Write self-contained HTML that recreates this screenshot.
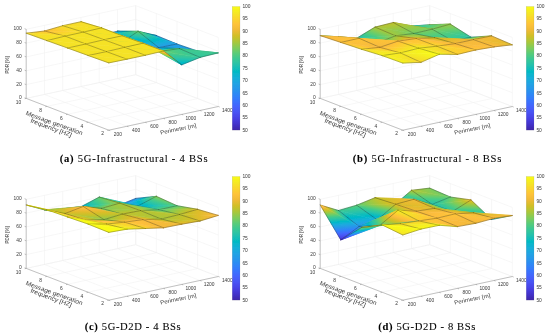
<!DOCTYPE html>
<html><head><meta charset="utf-8"><title>PDR surfaces</title>
<style>
html,body{margin:0;padding:0;background:#fff}
svg{display:block}
.g{fill:none;stroke:#efefef;stroke-width:.5}
.a{fill:none;stroke:#8a8a8a;stroke-width:.5}
.e{fill:none;stroke:#000;stroke-opacity:.5;stroke-width:.55;stroke-linejoin:round;stroke-linecap:round}
.s path{stroke-width:.6;stroke-linejoin:round}
.s path.e{stroke-width:.55}
text{font-family:"Liberation Sans",sans-serif;fill:#3a3a3a}
.t{font-size:4.45px}
.ct{font-size:4.45px}
.zl{font-size:4.5px}
.xl{font-size:6.1px}
.pl{font-size:5.6px}
.cap{font-family:"Liberation Serif",serif;font-size:10.6px;letter-spacing:.62px;fill:#000;stroke:#000;stroke-width:.08px}
</style></head><body>
<svg width="550" height="336" viewBox="0 0 550 336">
<defs><filter id="bl" x="-5%" y="-5%" width="110%" height="110%"><feGaussianBlur stdDeviation="0.4"/></filter><filter id="bc" x="-5%" y="-20%" width="110%" height="140%"><feGaussianBlur stdDeviation="0.25"/></filter><linearGradient id="cb" x1="0" y1="0" x2="0" y2="1"><stop offset="0%" stop-color="#f9fb15"/><stop offset="4.8%" stop-color="#f5e924"/><stop offset="9.5%" stop-color="#fad62d"/><stop offset="14.3%" stop-color="#fec338"/><stop offset="19%" stop-color="#f0ba36"/><stop offset="23.8%" stop-color="#d1bf27"/><stop offset="28.6%" stop-color="#abc739"/><stop offset="33.3%" stop-color="#81cc59"/><stop offset="38.1%" stop-color="#57cc7a"/><stop offset="42.9%" stop-color="#37c897"/><stop offset="47.6%" stop-color="#24c1ae"/><stop offset="52.4%" stop-color="#02bac3"/><stop offset="57.1%" stop-color="#12b1d6"/><stop offset="61.9%" stop-color="#20a5e3"/><stop offset="66.7%" stop-color="#2797eb"/><stop offset="71.4%" stop-color="#2e87f7"/><stop offset="76.2%" stop-color="#3875fe"/><stop offset="81%" stop-color="#4563fd"/><stop offset="85.7%" stop-color="#4852f4"/><stop offset="90.5%" stop-color="#4741e5"/><stop offset="95.2%" stop-color="#4332cb"/><stop offset="100%" stop-color="#3e26a8"/></linearGradient>
<linearGradient id="g1" gradientUnits="userSpaceOnUse" x1="117.4" y1="31.2" x2="117.5" y2="31.2"><stop offset="0%" stop-color="#4367fd"/><stop offset="16.7%" stop-color="#3c72ff"/><stop offset="33.3%" stop-color="#317dfc"/><stop offset="50%" stop-color="#2d87f7"/><stop offset="66.7%" stop-color="#2b91ef"/><stop offset="83.3%" stop-color="#269ae8"/><stop offset="100%" stop-color="#21a3e4"/></linearGradient>
<linearGradient id="g2" gradientUnits="userSpaceOnUse" x1="117.4" y1="31.3" x2="117.7" y2="29.1"><stop offset="0%" stop-color="#23a0e5"/><stop offset="11.1%" stop-color="#1da8e0"/><stop offset="22.2%" stop-color="#13b0d7"/><stop offset="33.3%" stop-color="#03b7cc"/><stop offset="44.4%" stop-color="#07bcc0"/><stop offset="55.6%" stop-color="#1ec0b2"/><stop offset="66.7%" stop-color="#2ec4a4"/><stop offset="77.8%" stop-color="#39c995"/><stop offset="88.9%" stop-color="#4ccb82"/><stop offset="100%" stop-color="#65cd6e"/></linearGradient>
<linearGradient id="g3" gradientUnits="userSpaceOnUse" x1="99.2" y1="35.6" x2="100.6" y2="41"><stop offset="0%" stop-color="#249fe6"/><stop offset="11.1%" stop-color="#1ea7e1"/><stop offset="22.2%" stop-color="#15afd8"/><stop offset="33.3%" stop-color="#04b6cd"/><stop offset="44.4%" stop-color="#06bcc0"/><stop offset="55.6%" stop-color="#1dc0b3"/><stop offset="66.7%" stop-color="#2dc4a5"/><stop offset="77.8%" stop-color="#39c895"/><stop offset="88.9%" stop-color="#4ccb83"/><stop offset="100%" stop-color="#65cd6e"/></linearGradient>
<linearGradient id="g4" gradientUnits="userSpaceOnUse" x1="99.2" y1="35.6" x2="105.7" y2="18.8"><stop offset="0%" stop-color="#249fe6"/><stop offset="11.1%" stop-color="#1ea7e1"/><stop offset="22.2%" stop-color="#15afd8"/><stop offset="33.3%" stop-color="#04b6cd"/><stop offset="44.4%" stop-color="#06bcc0"/><stop offset="55.6%" stop-color="#1dc0b3"/><stop offset="66.7%" stop-color="#2dc4a5"/><stop offset="77.8%" stop-color="#39c895"/><stop offset="88.9%" stop-color="#4ccb83"/><stop offset="100%" stop-color="#65cd6e"/></linearGradient>
<linearGradient id="g5" gradientUnits="userSpaceOnUse" x1="78.6" y1="27.7" x2="81" y2="21.7"><stop offset="0%" stop-color="#249fe6"/><stop offset="5.6%" stop-color="#1ea8e1"/><stop offset="11.1%" stop-color="#14b0d8"/><stop offset="16.7%" stop-color="#04b6cd"/><stop offset="22.2%" stop-color="#07bcc0"/><stop offset="27.8%" stop-color="#1ec0b2"/><stop offset="33.3%" stop-color="#2ec5a4"/><stop offset="38.9%" stop-color="#3ac993"/><stop offset="44.4%" stop-color="#4fcc81"/><stop offset="50%" stop-color="#68cd6b"/><stop offset="55.6%" stop-color="#85cb56"/><stop offset="61.1%" stop-color="#a1c840"/><stop offset="66.7%" stop-color="#bbc42f"/><stop offset="72.2%" stop-color="#d3bf27"/><stop offset="77.8%" stop-color="#e7bb2e"/><stop offset="83.3%" stop-color="#f9ba3d"/><stop offset="88.9%" stop-color="#fec438"/><stop offset="94.4%" stop-color="#fccf30"/><stop offset="100%" stop-color="#f7dc2a"/></linearGradient>
<linearGradient id="g6" gradientUnits="userSpaceOnUse" x1="78.2" y1="30.5" x2="81" y2="21.4"><stop offset="0%" stop-color="#249fe6"/><stop offset="5.6%" stop-color="#1da8e0"/><stop offset="11.1%" stop-color="#14b0d8"/><stop offset="16.7%" stop-color="#03b7cc"/><stop offset="22.2%" stop-color="#09bcbe"/><stop offset="27.8%" stop-color="#21c1b0"/><stop offset="33.3%" stop-color="#30c5a1"/><stop offset="38.9%" stop-color="#3dca90"/><stop offset="44.4%" stop-color="#54cc7c"/><stop offset="50%" stop-color="#6fcd66"/><stop offset="55.6%" stop-color="#8dcb4f"/><stop offset="61.1%" stop-color="#a9c73a"/><stop offset="66.7%" stop-color="#c4c22b"/><stop offset="72.2%" stop-color="#dbbd29"/><stop offset="77.8%" stop-color="#efba35"/><stop offset="83.3%" stop-color="#fdbd3d"/><stop offset="88.9%" stop-color="#fec934"/><stop offset="94.4%" stop-color="#fad62d"/><stop offset="100%" stop-color="#f5e227"/></linearGradient>
<linearGradient id="g7" gradientUnits="userSpaceOnUse" x1="62.7" y1="25.7" x2="65" y2="36"><stop offset="0%" stop-color="#f7dc2a"/><stop offset="100%" stop-color="#f5e227"/></linearGradient>
<linearGradient id="g8" gradientUnits="userSpaceOnUse" x1="62.7" y1="25.7" x2="65.2" y2="36.3"><stop offset="0%" stop-color="#f7dc2a"/><stop offset="100%" stop-color="#f5e227"/></linearGradient>
<linearGradient id="g9" gradientUnits="userSpaceOnUse" x1="44.5" y1="31" x2="50.9" y2="17.1"><stop offset="0%" stop-color="#fec13a"/><stop offset="33.3%" stop-color="#fdcb32"/><stop offset="66.7%" stop-color="#f9d72d"/><stop offset="100%" stop-color="#f5e227"/></linearGradient>
<linearGradient id="g10" gradientUnits="userSpaceOnUse" x1="44.5" y1="31" x2="46.4" y2="40.1"><stop offset="0%" stop-color="#fec13a"/><stop offset="33.3%" stop-color="#fdcb32"/><stop offset="66.7%" stop-color="#f9d72d"/><stop offset="100%" stop-color="#f5e227"/></linearGradient>
<linearGradient id="g11" gradientUnits="userSpaceOnUse" x1="26.4" y1="30" x2="26.2" y2="33.9"><stop offset="0%" stop-color="#fec13a"/><stop offset="33.3%" stop-color="#fdcb32"/><stop offset="66.7%" stop-color="#f9d72d"/><stop offset="100%" stop-color="#f5e227"/></linearGradient>
<linearGradient id="g12" gradientUnits="userSpaceOnUse" x1="26.2" y1="33.2" x2="29.1" y2="44.9"><stop offset="0%" stop-color="#f7dc2a"/><stop offset="100%" stop-color="#f5e227"/></linearGradient>
<linearGradient id="g13" gradientUnits="userSpaceOnUse" x1="139.4" y1="28.3" x2="138.1" y2="31.3"><stop offset="0%" stop-color="#259ce7"/><stop offset="11.1%" stop-color="#20a5e2"/><stop offset="22.2%" stop-color="#18aedb"/><stop offset="33.3%" stop-color="#07b5d0"/><stop offset="44.4%" stop-color="#02bbc3"/><stop offset="55.6%" stop-color="#19bfb5"/><stop offset="66.7%" stop-color="#2cc4a7"/><stop offset="77.8%" stop-color="#38c896"/><stop offset="88.9%" stop-color="#4bcb83"/><stop offset="100%" stop-color="#65cd6e"/></linearGradient>
<linearGradient id="g14" gradientUnits="userSpaceOnUse" x1="142.9" y1="51.9" x2="138.1" y2="31.3"><stop offset="0%" stop-color="#259ce7"/><stop offset="11.1%" stop-color="#20a5e2"/><stop offset="22.2%" stop-color="#18aedb"/><stop offset="33.3%" stop-color="#07b5d0"/><stop offset="44.4%" stop-color="#02bbc3"/><stop offset="55.6%" stop-color="#19bfb5"/><stop offset="66.7%" stop-color="#2cc4a7"/><stop offset="77.8%" stop-color="#38c896"/><stop offset="88.9%" stop-color="#4bcb83"/><stop offset="100%" stop-color="#65cd6e"/></linearGradient>
<linearGradient id="g15" gradientUnits="userSpaceOnUse" x1="119.8" y1="43.7" x2="121.3" y2="29.6"><stop offset="0%" stop-color="#249ee6"/><stop offset="11.1%" stop-color="#1ea7e1"/><stop offset="22.2%" stop-color="#15afd9"/><stop offset="33.3%" stop-color="#05b6ce"/><stop offset="44.4%" stop-color="#05bbc1"/><stop offset="55.6%" stop-color="#1cc0b3"/><stop offset="66.7%" stop-color="#2dc4a5"/><stop offset="77.8%" stop-color="#39c895"/><stop offset="88.9%" stop-color="#4ccb83"/><stop offset="100%" stop-color="#65cd6e"/></linearGradient>
<linearGradient id="g16" gradientUnits="userSpaceOnUse" x1="98.7" y1="35.4" x2="101.6" y2="27.9"><stop offset="0%" stop-color="#249fe6"/><stop offset="5.6%" stop-color="#1da8e0"/><stop offset="11.1%" stop-color="#14b0d8"/><stop offset="16.7%" stop-color="#03b7cc"/><stop offset="22.2%" stop-color="#09bcbe"/><stop offset="27.8%" stop-color="#21c1b0"/><stop offset="33.3%" stop-color="#30c5a1"/><stop offset="38.9%" stop-color="#3dca90"/><stop offset="44.4%" stop-color="#54cc7c"/><stop offset="50%" stop-color="#6fcd66"/><stop offset="55.6%" stop-color="#8dcb4f"/><stop offset="61.1%" stop-color="#a9c73a"/><stop offset="66.7%" stop-color="#c4c22b"/><stop offset="72.2%" stop-color="#dbbd29"/><stop offset="77.8%" stop-color="#efba35"/><stop offset="83.3%" stop-color="#fdbd3d"/><stop offset="88.9%" stop-color="#fec934"/><stop offset="94.4%" stop-color="#fad62d"/><stop offset="100%" stop-color="#f5e227"/></linearGradient>
<linearGradient id="g17" gradientUnits="userSpaceOnUse" x1="98.7" y1="35.6" x2="101.6" y2="27.9"><stop offset="0%" stop-color="#249fe6"/><stop offset="5.6%" stop-color="#1da8e0"/><stop offset="11.1%" stop-color="#14b0d8"/><stop offset="16.7%" stop-color="#03b7cc"/><stop offset="22.2%" stop-color="#09bcbe"/><stop offset="27.8%" stop-color="#21c1b0"/><stop offset="33.3%" stop-color="#30c5a1"/><stop offset="38.9%" stop-color="#3dca90"/><stop offset="44.4%" stop-color="#54cc7c"/><stop offset="50%" stop-color="#6fcd66"/><stop offset="55.6%" stop-color="#8dcb4f"/><stop offset="61.1%" stop-color="#a9c73a"/><stop offset="66.7%" stop-color="#c4c22b"/><stop offset="72.2%" stop-color="#dbbd29"/><stop offset="77.8%" stop-color="#efba35"/><stop offset="83.3%" stop-color="#fdbd3d"/><stop offset="88.9%" stop-color="#fec934"/><stop offset="94.4%" stop-color="#fad62d"/><stop offset="100%" stop-color="#f5e227"/></linearGradient>
<linearGradient id="g18" gradientUnits="userSpaceOnUse" x1="158.6" y1="44.7" x2="159" y2="52.7"><stop offset="0%" stop-color="#259ce7"/><stop offset="100%" stop-color="#22a2e4"/></linearGradient>
<linearGradient id="g19" gradientUnits="userSpaceOnUse" x1="158.8" y1="47.6" x2="158.8" y2="46.7"><stop offset="0%" stop-color="#249ee6"/><stop offset="12.5%" stop-color="#1fa6e1"/><stop offset="25%" stop-color="#17aeda"/><stop offset="37.5%" stop-color="#07b5d0"/><stop offset="50%" stop-color="#02bac4"/><stop offset="62.5%" stop-color="#14beb8"/><stop offset="75%" stop-color="#28c2ab"/><stop offset="87.5%" stop-color="#33c69d"/><stop offset="100%" stop-color="#40ca8d"/></linearGradient>
<linearGradient id="g20" gradientUnits="userSpaceOnUse" x1="140.5" y1="51.5" x2="141.6" y2="56.6"><stop offset="0%" stop-color="#249ee6"/><stop offset="12.5%" stop-color="#1fa6e1"/><stop offset="25%" stop-color="#17aeda"/><stop offset="37.5%" stop-color="#07b5d0"/><stop offset="50%" stop-color="#02bac4"/><stop offset="62.5%" stop-color="#14beb8"/><stop offset="75%" stop-color="#28c2ab"/><stop offset="87.5%" stop-color="#33c69d"/><stop offset="100%" stop-color="#40ca8d"/></linearGradient>
<linearGradient id="g21" gradientUnits="userSpaceOnUse" x1="140.5" y1="51.5" x2="140.8" y2="53.6"><stop offset="0%" stop-color="#249fe6"/><stop offset="11.1%" stop-color="#1ea7e1"/><stop offset="22.2%" stop-color="#15afd8"/><stop offset="33.3%" stop-color="#04b6cd"/><stop offset="44.4%" stop-color="#06bcc0"/><stop offset="55.6%" stop-color="#1dc0b3"/><stop offset="66.7%" stop-color="#2dc4a5"/><stop offset="77.8%" stop-color="#39c895"/><stop offset="88.9%" stop-color="#4ccb83"/><stop offset="100%" stop-color="#65cd6e"/></linearGradient>
<linearGradient id="g22" gradientUnits="userSpaceOnUse" x1="119.6" y1="46.4" x2="122.2" y2="35.8"><stop offset="0%" stop-color="#249fe6"/><stop offset="5.6%" stop-color="#1da8e0"/><stop offset="11.1%" stop-color="#14b0d8"/><stop offset="16.7%" stop-color="#03b7cc"/><stop offset="22.2%" stop-color="#09bcbe"/><stop offset="27.8%" stop-color="#21c1b0"/><stop offset="33.3%" stop-color="#30c5a1"/><stop offset="38.9%" stop-color="#3dca90"/><stop offset="44.4%" stop-color="#54cc7c"/><stop offset="50%" stop-color="#6fcd66"/><stop offset="55.6%" stop-color="#8dcb4f"/><stop offset="61.1%" stop-color="#a9c73a"/><stop offset="66.7%" stop-color="#c4c22b"/><stop offset="72.2%" stop-color="#dbbd29"/><stop offset="77.8%" stop-color="#efba35"/><stop offset="83.3%" stop-color="#fdbd3d"/><stop offset="88.9%" stop-color="#fec934"/><stop offset="94.4%" stop-color="#fad62d"/><stop offset="100%" stop-color="#f5e227"/></linearGradient>
<linearGradient id="g23" gradientUnits="userSpaceOnUse" x1="121.8" y1="37" x2="122.2" y2="35.8"><stop offset="0%" stop-color="#65cd6e"/><stop offset="10%" stop-color="#80cc59"/><stop offset="20%" stop-color="#9cc944"/><stop offset="30%" stop-color="#b5c533"/><stop offset="40%" stop-color="#cdc028"/><stop offset="50%" stop-color="#e2bc2b"/><stop offset="60%" stop-color="#f3ba39"/><stop offset="70%" stop-color="#febf3b"/><stop offset="80%" stop-color="#fdca33"/><stop offset="90%" stop-color="#f9d62d"/><stop offset="100%" stop-color="#f5e227"/></linearGradient>
<linearGradient id="g24" gradientUnits="userSpaceOnUse" x1="179.3" y1="49.1" x2="179.4" y2="48.6"><stop offset="0%" stop-color="#22a2e4"/><stop offset="14.3%" stop-color="#1babde"/><stop offset="28.6%" stop-color="#0eb2d4"/><stop offset="42.9%" stop-color="#01b9c8"/><stop offset="57.1%" stop-color="#0ebebb"/><stop offset="71.4%" stop-color="#26c2ad"/><stop offset="85.7%" stop-color="#32c69e"/><stop offset="100%" stop-color="#40ca8d"/></linearGradient>
<linearGradient id="g25" gradientUnits="userSpaceOnUse" x1="179.1" y1="56.5" x2="179.4" y2="48.6"><stop offset="0%" stop-color="#33c79d"/><stop offset="100%" stop-color="#40ca8d"/></linearGradient>
<linearGradient id="g26" gradientUnits="userSpaceOnUse" x1="178.7" y1="34.7" x2="161.2" y2="51.2"><stop offset="0%" stop-color="#33c79d"/><stop offset="33.3%" stop-color="#3eca8f"/><stop offset="66.7%" stop-color="#51cc7f"/><stop offset="100%" stop-color="#65cd6e"/></linearGradient>
<linearGradient id="g27" gradientUnits="userSpaceOnUse" x1="160.8" y1="64.2" x2="161.2" y2="51.2"><stop offset="0%" stop-color="#09b4d1"/><stop offset="14.3%" stop-color="#01b9c6"/><stop offset="28.6%" stop-color="#10beba"/><stop offset="42.9%" stop-color="#25c2ae"/><stop offset="57.1%" stop-color="#31c6a0"/><stop offset="71.4%" stop-color="#3cc992"/><stop offset="85.7%" stop-color="#4fcc81"/><stop offset="100%" stop-color="#65cd6e"/></linearGradient>
<linearGradient id="g28" gradientUnits="userSpaceOnUse" x1="150.8" y1="35" x2="142.9" y2="43.2"><stop offset="0%" stop-color="#09b4d1"/><stop offset="6.2%" stop-color="#02bac4"/><stop offset="12.5%" stop-color="#15bfb7"/><stop offset="18.8%" stop-color="#29c3a9"/><stop offset="25%" stop-color="#35c79a"/><stop offset="31.2%" stop-color="#46cb88"/><stop offset="37.5%" stop-color="#5ecc74"/><stop offset="43.8%" stop-color="#79cc5e"/><stop offset="50%" stop-color="#95ca49"/><stop offset="56.2%" stop-color="#b0c636"/><stop offset="62.5%" stop-color="#c9c129"/><stop offset="68.8%" stop-color="#dfbc2a"/><stop offset="75%" stop-color="#f1ba37"/><stop offset="81.2%" stop-color="#febe3c"/><stop offset="87.5%" stop-color="#feca33"/><stop offset="93.8%" stop-color="#f9d62d"/><stop offset="100%" stop-color="#f5e227"/></linearGradient>
<linearGradient id="g29" gradientUnits="userSpaceOnUse" x1="140.6" y1="49.3" x2="142.9" y2="43.2"><stop offset="0%" stop-color="#09b4d1"/><stop offset="6.2%" stop-color="#02bac4"/><stop offset="12.5%" stop-color="#15bfb7"/><stop offset="18.8%" stop-color="#29c3a9"/><stop offset="25%" stop-color="#35c79a"/><stop offset="31.2%" stop-color="#46cb88"/><stop offset="37.5%" stop-color="#5ecc74"/><stop offset="43.8%" stop-color="#79cc5e"/><stop offset="50%" stop-color="#95ca49"/><stop offset="56.2%" stop-color="#b0c636"/><stop offset="62.5%" stop-color="#c9c129"/><stop offset="68.8%" stop-color="#dfbc2a"/><stop offset="75%" stop-color="#f1ba37"/><stop offset="81.2%" stop-color="#febe3c"/><stop offset="87.5%" stop-color="#feca33"/><stop offset="93.8%" stop-color="#f9d62d"/><stop offset="100%" stop-color="#f5e227"/></linearGradient>
<linearGradient id="g30" gradientUnits="userSpaceOnUse" x1="117.4" y1="25.9" x2="117.5" y2="26.7"><stop offset="0%" stop-color="#06b5cf"/><stop offset="12.5%" stop-color="#03bbc2"/><stop offset="25%" stop-color="#1ac0b5"/><stop offset="37.5%" stop-color="#2cc4a6"/><stop offset="50%" stop-color="#37c897"/><stop offset="62.5%" stop-color="#4acb84"/><stop offset="75%" stop-color="#63cd70"/><stop offset="87.5%" stop-color="#7fcc5a"/><stop offset="100%" stop-color="#9bc944"/></linearGradient>
<linearGradient id="g31" gradientUnits="userSpaceOnUse" x1="117.5" y1="26.1" x2="123.5" y2="39.3"><stop offset="0%" stop-color="#21c1b0"/><stop offset="16.7%" stop-color="#2fc5a2"/><stop offset="33.3%" stop-color="#3bc993"/><stop offset="50%" stop-color="#4ecc81"/><stop offset="66.7%" stop-color="#66cd6d"/><stop offset="83.3%" stop-color="#81cc59"/><stop offset="100%" stop-color="#9bc944"/></linearGradient>
<linearGradient id="g32" gradientUnits="userSpaceOnUse" x1="99.1" y1="23" x2="99.2" y2="22.5"><stop offset="0%" stop-color="#21c1b0"/><stop offset="14.3%" stop-color="#30c5a1"/><stop offset="28.6%" stop-color="#3dc991"/><stop offset="42.9%" stop-color="#53cc7d"/><stop offset="57.1%" stop-color="#6dcd67"/><stop offset="71.4%" stop-color="#8acb51"/><stop offset="85.7%" stop-color="#a6c73c"/><stop offset="100%" stop-color="#c1c32d"/></linearGradient>
<linearGradient id="g33" gradientUnits="userSpaceOnUse" x1="101.3" y1="36.3" x2="99.2" y2="22.5"><stop offset="0%" stop-color="#71cd64"/><stop offset="33.3%" stop-color="#8dcb4f"/><stop offset="66.7%" stop-color="#a8c73b"/><stop offset="100%" stop-color="#c1c32d"/></linearGradient>
<linearGradient id="g34" gradientUnits="userSpaceOnUse" x1="81.9" y1="37.2" x2="80.7" y2="24.3"><stop offset="0%" stop-color="#71cd64"/><stop offset="33.3%" stop-color="#8dcb4f"/><stop offset="66.7%" stop-color="#a8c73b"/><stop offset="100%" stop-color="#c1c32d"/></linearGradient>
<linearGradient id="g35" gradientUnits="userSpaceOnUse" x1="91" y1="13" x2="81" y2="27.1"><stop offset="0%" stop-color="#71cd64"/><stop offset="33.3%" stop-color="#87cb54"/><stop offset="66.7%" stop-color="#9cc944"/><stop offset="100%" stop-color="#b0c636"/></linearGradient>
<linearGradient id="g36" gradientUnits="userSpaceOnUse" x1="62.7" y1="38.2" x2="67.9" y2="22.7"><stop offset="0%" stop-color="#1dc0b3"/><stop offset="14.3%" stop-color="#2dc4a5"/><stop offset="28.6%" stop-color="#38c896"/><stop offset="42.9%" stop-color="#49cb85"/><stop offset="57.1%" stop-color="#61cd71"/><stop offset="71.4%" stop-color="#7bcc5d"/><stop offset="85.7%" stop-color="#96ca48"/><stop offset="100%" stop-color="#b0c636"/></linearGradient>
<linearGradient id="g37" gradientUnits="userSpaceOnUse" x1="62.7" y1="38.2" x2="101.5" y2="34.4"><stop offset="0%" stop-color="#1dc0b3"/><stop offset="16.7%" stop-color="#2ec4a5"/><stop offset="33.3%" stop-color="#39c994"/><stop offset="50%" stop-color="#4dcc82"/><stop offset="66.7%" stop-color="#66cd6d"/><stop offset="83.3%" stop-color="#83cc57"/><stop offset="100%" stop-color="#9fc942"/></linearGradient>
<linearGradient id="g38" gradientUnits="userSpaceOnUse" x1="44.7" y1="35.1" x2="44.5" y2="36.8"><stop offset="0%" stop-color="#1dc0b3"/><stop offset="20%" stop-color="#2ec4a4"/><stop offset="40%" stop-color="#3ac994"/><stop offset="60%" stop-color="#4ecc81"/><stop offset="80%" stop-color="#67cd6c"/><stop offset="100%" stop-color="#84cc56"/></linearGradient>
<linearGradient id="g39" gradientUnits="userSpaceOnUse" x1="44.4" y1="37.2" x2="44.7" y2="35.3"><stop offset="0%" stop-color="#50cc80"/><stop offset="12.5%" stop-color="#69cd6b"/><stop offset="25%" stop-color="#85cb55"/><stop offset="37.5%" stop-color="#a1c840"/><stop offset="50%" stop-color="#bbc42f"/><stop offset="62.5%" stop-color="#d2bf27"/><stop offset="75%" stop-color="#e7bb2e"/><stop offset="87.5%" stop-color="#f8ba3d"/><stop offset="100%" stop-color="#fec338"/></linearGradient>
<linearGradient id="g40" gradientUnits="userSpaceOnUse" x1="26.2" y1="35.5" x2="26.2" y2="35.6"><stop offset="0%" stop-color="#84cc56"/><stop offset="16.7%" stop-color="#a0c841"/><stop offset="33.3%" stop-color="#bac430"/><stop offset="50%" stop-color="#d2bf27"/><stop offset="66.7%" stop-color="#e7bb2d"/><stop offset="83.3%" stop-color="#f8ba3d"/><stop offset="100%" stop-color="#fec338"/></linearGradient>
<linearGradient id="g41" gradientUnits="userSpaceOnUse" x1="26.2" y1="35.6" x2="30.3" y2="49"><stop offset="0%" stop-color="#f4ba3a"/><stop offset="50%" stop-color="#fcbd3d"/><stop offset="100%" stop-color="#fec338"/></linearGradient>
<linearGradient id="g42" gradientUnits="userSpaceOnUse" x1="139.1" y1="40.5" x2="137.8" y2="25.7"><stop offset="0%" stop-color="#2ec4a4"/><stop offset="20%" stop-color="#39c994"/><stop offset="40%" stop-color="#4ccb82"/><stop offset="60%" stop-color="#65cd6e"/><stop offset="80%" stop-color="#80cc59"/><stop offset="100%" stop-color="#9bc944"/></linearGradient>
<linearGradient id="g43" gradientUnits="userSpaceOnUse" x1="142.4" y1="46.1" x2="138.1" y2="29.2"><stop offset="0%" stop-color="#2ec4a4"/><stop offset="25%" stop-color="#39c895"/><stop offset="50%" stop-color="#4acb84"/><stop offset="75%" stop-color="#61cd71"/><stop offset="100%" stop-color="#7acc5d"/></linearGradient>
<linearGradient id="g44" gradientUnits="userSpaceOnUse" x1="122" y1="46.8" x2="119.6" y2="32.2"><stop offset="0%" stop-color="#30c5a1"/><stop offset="25%" stop-color="#3bc993"/><stop offset="50%" stop-color="#4ccb82"/><stop offset="75%" stop-color="#62cd70"/><stop offset="100%" stop-color="#7acc5d"/></linearGradient>
<linearGradient id="g45" gradientUnits="userSpaceOnUse" x1="119.9" y1="33.4" x2="119.8" y2="33.7"><stop offset="0%" stop-color="#30c5a1"/><stop offset="14.3%" stop-color="#3cc991"/><stop offset="28.6%" stop-color="#51cc7f"/><stop offset="42.9%" stop-color="#69cd6b"/><stop offset="57.1%" stop-color="#84cb56"/><stop offset="71.4%" stop-color="#9fc941"/><stop offset="85.7%" stop-color="#b9c431"/><stop offset="100%" stop-color="#d0c027"/></linearGradient>
<linearGradient id="g46" gradientUnits="userSpaceOnUse" x1="101.6" y1="33.8" x2="101.6" y2="38.2"><stop offset="0%" stop-color="#71cd64"/><stop offset="25%" stop-color="#8bcb51"/><stop offset="50%" stop-color="#a3c83f"/><stop offset="75%" stop-color="#bbc430"/><stop offset="100%" stop-color="#d0c027"/></linearGradient>
<linearGradient id="g47" gradientUnits="userSpaceOnUse" x1="101.6" y1="35.8" x2="101.5" y2="38"><stop offset="0%" stop-color="#9fc942"/><stop offset="20%" stop-color="#b9c431"/><stop offset="40%" stop-color="#d0c027"/><stop offset="60%" stop-color="#e4bb2c"/><stop offset="80%" stop-color="#f5ba3a"/><stop offset="100%" stop-color="#fec13a"/></linearGradient>
<linearGradient id="g48" gradientUnits="userSpaceOnUse" x1="83.3" y1="42.8" x2="108.2" y2="59.5"><stop offset="0%" stop-color="#50cc80"/><stop offset="12.5%" stop-color="#68cd6b"/><stop offset="25%" stop-color="#84cc56"/><stop offset="37.5%" stop-color="#9fc942"/><stop offset="50%" stop-color="#b9c431"/><stop offset="62.5%" stop-color="#d0c027"/><stop offset="75%" stop-color="#e4bb2c"/><stop offset="87.5%" stop-color="#f5ba3a"/><stop offset="100%" stop-color="#fec13a"/></linearGradient>
<linearGradient id="g49" gradientUnits="userSpaceOnUse" x1="83.3" y1="42.8" x2="83.5" y2="44"><stop offset="0%" stop-color="#50cc80"/><stop offset="12.5%" stop-color="#68cd6b"/><stop offset="25%" stop-color="#84cc56"/><stop offset="37.5%" stop-color="#9fc942"/><stop offset="50%" stop-color="#b9c431"/><stop offset="62.5%" stop-color="#d0c027"/><stop offset="75%" stop-color="#e4bb2c"/><stop offset="87.5%" stop-color="#f5ba3a"/><stop offset="100%" stop-color="#fec13a"/></linearGradient>
<linearGradient id="g50" gradientUnits="userSpaceOnUse" x1="64.9" y1="41.5" x2="65.1" y2="38.3"><stop offset="0%" stop-color="#50cc80"/><stop offset="12.5%" stop-color="#69cd6b"/><stop offset="25%" stop-color="#85cb55"/><stop offset="37.5%" stop-color="#a1c840"/><stop offset="50%" stop-color="#bbc42f"/><stop offset="62.5%" stop-color="#d2bf27"/><stop offset="75%" stop-color="#e7bb2e"/><stop offset="87.5%" stop-color="#f8ba3d"/><stop offset="100%" stop-color="#fec338"/></linearGradient>
<linearGradient id="g51" gradientUnits="userSpaceOnUse" x1="64.8" y1="46.7" x2="65.1" y2="38.3"><stop offset="0%" stop-color="#f7ba3c"/><stop offset="100%" stop-color="#fec338"/></linearGradient>
<linearGradient id="g52" gradientUnits="userSpaceOnUse" x1="48.3" y1="52.6" x2="46.6" y2="40.9"><stop offset="0%" stop-color="#f7ba3c"/><stop offset="100%" stop-color="#fec338"/></linearGradient>
<linearGradient id="g53" gradientUnits="userSpaceOnUse" x1="47.1" y1="41.1" x2="46.3" y2="45.9"><stop offset="0%" stop-color="#f7ba3c"/><stop offset="25%" stop-color="#fec13a"/><stop offset="50%" stop-color="#fdcb33"/><stop offset="75%" stop-color="#fad52d"/><stop offset="100%" stop-color="#f6e028"/></linearGradient>
<linearGradient id="g54" gradientUnits="userSpaceOnUse" x1="158.7" y1="40.9" x2="159.3" y2="43.7"><stop offset="0%" stop-color="#2ec4a4"/><stop offset="11.1%" stop-color="#39c895"/><stop offset="22.2%" stop-color="#4ccb83"/><stop offset="33.3%" stop-color="#63cd6f"/><stop offset="44.4%" stop-color="#7ecc5a"/><stop offset="55.6%" stop-color="#99c946"/><stop offset="66.7%" stop-color="#b3c534"/><stop offset="77.8%" stop-color="#cac129"/><stop offset="88.9%" stop-color="#dfbc2a"/><stop offset="100%" stop-color="#f1ba37"/></linearGradient>
<linearGradient id="g55" gradientUnits="userSpaceOnUse" x1="158.8" y1="40.9" x2="159.3" y2="43.6"><stop offset="0%" stop-color="#30c5a1"/><stop offset="11.1%" stop-color="#3cc991"/><stop offset="22.2%" stop-color="#51cc7f"/><stop offset="33.3%" stop-color="#69cd6a"/><stop offset="44.4%" stop-color="#85cb56"/><stop offset="55.6%" stop-color="#a0c941"/><stop offset="66.7%" stop-color="#b9c430"/><stop offset="77.8%" stop-color="#d0bf27"/><stop offset="88.9%" stop-color="#e4bb2c"/><stop offset="100%" stop-color="#f5ba3a"/></linearGradient>
<linearGradient id="g56" gradientUnits="userSpaceOnUse" x1="140.4" y1="39.7" x2="140.5" y2="37.1"><stop offset="0%" stop-color="#30c5a1"/><stop offset="11.1%" stop-color="#3cc991"/><stop offset="22.2%" stop-color="#51cc7f"/><stop offset="33.3%" stop-color="#69cd6a"/><stop offset="44.4%" stop-color="#85cb56"/><stop offset="55.6%" stop-color="#a0c941"/><stop offset="66.7%" stop-color="#b9c430"/><stop offset="77.8%" stop-color="#d0bf27"/><stop offset="88.9%" stop-color="#e4bb2c"/><stop offset="100%" stop-color="#f5ba3a"/></linearGradient>
<linearGradient id="g57" gradientUnits="userSpaceOnUse" x1="140.5" y1="37.7" x2="143.1" y2="48.4"><stop offset="0%" stop-color="#d0c027"/><stop offset="50%" stop-color="#e4bb2c"/><stop offset="100%" stop-color="#f5ba3a"/></linearGradient>
<linearGradient id="g58" gradientUnits="userSpaceOnUse" x1="122.9" y1="34.8" x2="122.2" y2="38.5"><stop offset="0%" stop-color="#d0c027"/><stop offset="33.3%" stop-color="#e4bb2c"/><stop offset="66.7%" stop-color="#f5ba3a"/><stop offset="100%" stop-color="#fec13a"/></linearGradient>
<linearGradient id="g59" gradientUnits="userSpaceOnUse" x1="122.6" y1="36.5" x2="121.6" y2="42.3"><stop offset="0%" stop-color="#f4ba3a"/><stop offset="33.3%" stop-color="#fec03a"/><stop offset="66.7%" stop-color="#fdcc32"/><stop offset="100%" stop-color="#f9d82c"/></linearGradient>
<linearGradient id="g60" gradientUnits="userSpaceOnUse" x1="104" y1="41.1" x2="105.5" y2="51.5"><stop offset="0%" stop-color="#fec13a"/><stop offset="50%" stop-color="#fdcc32"/><stop offset="100%" stop-color="#f9d82c"/></linearGradient>
<linearGradient id="g61" gradientUnits="userSpaceOnUse" x1="104" y1="41.1" x2="103.7" y2="47"><stop offset="0%" stop-color="#fec13a"/><stop offset="25%" stop-color="#fdcc32"/><stop offset="50%" stop-color="#f9d82c"/><stop offset="75%" stop-color="#f5e427"/><stop offset="100%" stop-color="#f6f020"/></linearGradient>
<linearGradient id="g62" gradientUnits="userSpaceOnUse" x1="85.8" y1="47.3" x2="95.5" y2="64.6"><stop offset="0%" stop-color="#f7ba3c"/><stop offset="20%" stop-color="#fec239"/><stop offset="40%" stop-color="#fdcd32"/><stop offset="60%" stop-color="#f8d92c"/><stop offset="80%" stop-color="#f5e426"/><stop offset="100%" stop-color="#f6f020"/></linearGradient>
<linearGradient id="g63" gradientUnits="userSpaceOnUse" x1="85.8" y1="47.3" x2="90.9" y2="60.9"><stop offset="0%" stop-color="#f7ba3c"/><stop offset="20%" stop-color="#fec239"/><stop offset="40%" stop-color="#fdcd32"/><stop offset="60%" stop-color="#f8d92c"/><stop offset="80%" stop-color="#f5e426"/><stop offset="100%" stop-color="#f6f020"/></linearGradient>
<linearGradient id="g64" gradientUnits="userSpaceOnUse" x1="67.8" y1="46" x2="67.5" y2="50"><stop offset="0%" stop-color="#f7ba3c"/><stop offset="25%" stop-color="#fec339"/><stop offset="50%" stop-color="#fccf31"/><stop offset="75%" stop-color="#f7db2a"/><stop offset="100%" stop-color="#f5e825"/></linearGradient>
<linearGradient id="g65" gradientUnits="userSpaceOnUse" x1="67.5" y1="49.3" x2="67.3" y2="54.8"><stop offset="0%" stop-color="#f6e028"/><stop offset="50%" stop-color="#f5ea24"/><stop offset="100%" stop-color="#f7f31c"/></linearGradient>
<linearGradient id="g66" gradientUnits="userSpaceOnUse" x1="190.3" y1="59.9" x2="179.4" y2="39.6"><stop offset="0%" stop-color="#e1bc2b"/><stop offset="50%" stop-color="#ecba32"/><stop offset="100%" stop-color="#f5ba3a"/></linearGradient>
<linearGradient id="g67" gradientUnits="userSpaceOnUse" x1="180.3" y1="35.8" x2="178.9" y2="41.9"><stop offset="0%" stop-color="#e1bc2b"/><stop offset="50%" stop-color="#f1ba37"/><stop offset="100%" stop-color="#fdbd3d"/></linearGradient>
<linearGradient id="g68" gradientUnits="userSpaceOnUse" x1="161.2" y1="43.6" x2="165.1" y2="57.1"><stop offset="0%" stop-color="#f4ba3a"/><stop offset="100%" stop-color="#fdbd3d"/></linearGradient>
<linearGradient id="g69" gradientUnits="userSpaceOnUse" x1="161.2" y1="43.6" x2="161.1" y2="49.7"><stop offset="0%" stop-color="#f4ba3a"/><stop offset="50%" stop-color="#febe3c"/><stop offset="100%" stop-color="#fec736"/></linearGradient>
<linearGradient id="g70" gradientUnits="userSpaceOnUse" x1="143.8" y1="40.8" x2="142.9" y2="46.2"><stop offset="0%" stop-color="#f4ba3a"/><stop offset="33.3%" stop-color="#fec03a"/><stop offset="66.7%" stop-color="#fdcc32"/><stop offset="100%" stop-color="#f9d82c"/></linearGradient>
<linearGradient id="g71" gradientUnits="userSpaceOnUse" x1="174.3" y1="32.7" x2="142.9" y2="46.2"><stop offset="0%" stop-color="#fec736"/><stop offset="50%" stop-color="#fccf30"/><stop offset="100%" stop-color="#f9d82c"/></linearGradient>
<linearGradient id="g72" gradientUnits="userSpaceOnUse" x1="132.3" y1="35.5" x2="124.7" y2="48.2"><stop offset="0%" stop-color="#fcd030"/><stop offset="33.3%" stop-color="#f7db2b"/><stop offset="66.7%" stop-color="#f5e526"/><stop offset="100%" stop-color="#f6f020"/></linearGradient>
<linearGradient id="g73" gradientUnits="userSpaceOnUse" x1="125.4" y1="45.2" x2="124.4" y2="49.3"><stop offset="0%" stop-color="#fcd030"/><stop offset="25%" stop-color="#f7db2b"/><stop offset="50%" stop-color="#f5e626"/><stop offset="75%" stop-color="#f6f11f"/><stop offset="100%" stop-color="#f9fb15"/></linearGradient>
<linearGradient id="g74" gradientUnits="userSpaceOnUse" x1="106.4" y1="52.9" x2="138" y2="68.9"><stop offset="0%" stop-color="#f5e825"/><stop offset="50%" stop-color="#f6f21e"/><stop offset="100%" stop-color="#f9fb15"/></linearGradient>
<linearGradient id="g75" gradientUnits="userSpaceOnUse" x1="105.4" y1="57.9" x2="107.7" y2="46.7"><stop offset="0%" stop-color="#f9d82c"/><stop offset="33.3%" stop-color="#f5e427"/><stop offset="66.7%" stop-color="#f6f020"/><stop offset="100%" stop-color="#f9fb15"/></linearGradient>
<linearGradient id="g76" gradientUnits="userSpaceOnUse" x1="125.9" y1="66.4" x2="88.1" y2="55.6"><stop offset="0%" stop-color="#f9d82c"/><stop offset="33.3%" stop-color="#f5e128"/><stop offset="66.7%" stop-color="#f5eb23"/><stop offset="100%" stop-color="#f7f31c"/></linearGradient>
<linearGradient id="g77" gradientUnits="userSpaceOnUse" x1="89.9" y1="50.2" x2="87.9" y2="56.3"><stop offset="0%" stop-color="#f9d82c"/><stop offset="33.3%" stop-color="#f5e327"/><stop offset="66.7%" stop-color="#f5ed22"/><stop offset="100%" stop-color="#f8f719"/></linearGradient>
<linearGradient id="g78" gradientUnits="userSpaceOnUse" x1="117.5" y1="35.8" x2="121.6" y2="44"><stop offset="0%" stop-color="#3876fe"/><stop offset="7.1%" stop-color="#2f82fa"/><stop offset="14.3%" stop-color="#2d8cf3"/><stop offset="21.4%" stop-color="#2796eb"/><stop offset="28.6%" stop-color="#23a0e5"/><stop offset="35.7%" stop-color="#1da9e0"/><stop offset="42.9%" stop-color="#13b1d7"/><stop offset="50%" stop-color="#02b7cb"/><stop offset="57.1%" stop-color="#09bcbe"/><stop offset="64.3%" stop-color="#20c1b1"/><stop offset="71.4%" stop-color="#2fc5a2"/><stop offset="78.6%" stop-color="#3cc992"/><stop offset="85.7%" stop-color="#51cc7f"/><stop offset="92.9%" stop-color="#6bcd69"/><stop offset="100%" stop-color="#87cb54"/></linearGradient>
<linearGradient id="g79" gradientUnits="userSpaceOnUse" x1="117.5" y1="35.8" x2="144.7" y2="12.6"><stop offset="0%" stop-color="#3876fe"/><stop offset="7.1%" stop-color="#2f82fa"/><stop offset="14.3%" stop-color="#2d8cf3"/><stop offset="21.4%" stop-color="#2796eb"/><stop offset="28.6%" stop-color="#23a0e5"/><stop offset="35.7%" stop-color="#1da9e0"/><stop offset="42.9%" stop-color="#13b1d7"/><stop offset="50%" stop-color="#02b7cb"/><stop offset="57.1%" stop-color="#09bcbe"/><stop offset="64.3%" stop-color="#20c1b1"/><stop offset="71.4%" stop-color="#2fc5a2"/><stop offset="78.6%" stop-color="#3cc992"/><stop offset="85.7%" stop-color="#51cc7f"/><stop offset="92.9%" stop-color="#6bcd69"/><stop offset="100%" stop-color="#87cb54"/></linearGradient>
<linearGradient id="g80" gradientUnits="userSpaceOnUse" x1="98.3" y1="33.1" x2="99.2" y2="27.1"><stop offset="0%" stop-color="#3876fe"/><stop offset="7.7%" stop-color="#2f82fa"/><stop offset="15.4%" stop-color="#2d8cf3"/><stop offset="23.1%" stop-color="#2796eb"/><stop offset="30.8%" stop-color="#23a0e5"/><stop offset="38.5%" stop-color="#1da9e0"/><stop offset="46.2%" stop-color="#13b0d7"/><stop offset="53.8%" stop-color="#02b7cb"/><stop offset="61.5%" stop-color="#08bcbe"/><stop offset="69.2%" stop-color="#20c1b1"/><stop offset="76.9%" stop-color="#2fc5a2"/><stop offset="84.6%" stop-color="#3cc992"/><stop offset="92.3%" stop-color="#51cc7f"/><stop offset="100%" stop-color="#6acd6a"/></linearGradient>
<linearGradient id="g81" gradientUnits="userSpaceOnUse" x1="99.6" y1="25.7" x2="99.1" y2="27.6"><stop offset="0%" stop-color="#11b1d6"/><stop offset="11.1%" stop-color="#01b8c9"/><stop offset="22.2%" stop-color="#0cbdbc"/><stop offset="33.3%" stop-color="#24c1ae"/><stop offset="44.4%" stop-color="#31c69f"/><stop offset="55.6%" stop-color="#3fca8e"/><stop offset="66.7%" stop-color="#57cc7a"/><stop offset="77.8%" stop-color="#71cd64"/><stop offset="88.9%" stop-color="#8ecb4e"/><stop offset="100%" stop-color="#aac73a"/></linearGradient>
<linearGradient id="g82" gradientUnits="userSpaceOnUse" x1="81" y1="36.7" x2="94.5" y2="16.2"><stop offset="0%" stop-color="#07b5d0"/><stop offset="11.1%" stop-color="#02bac4"/><stop offset="22.2%" stop-color="#16bfb7"/><stop offset="33.3%" stop-color="#29c3aa"/><stop offset="44.4%" stop-color="#34c79b"/><stop offset="55.6%" stop-color="#44ca8a"/><stop offset="66.7%" stop-color="#5bcc77"/><stop offset="77.8%" stop-color="#74cc62"/><stop offset="88.9%" stop-color="#90ca4d"/><stop offset="100%" stop-color="#aac73a"/></linearGradient>
<linearGradient id="g83" gradientUnits="userSpaceOnUse" x1="81" y1="36.7" x2="85.5" y2="47.4"><stop offset="0%" stop-color="#07b5d0"/><stop offset="11.1%" stop-color="#02bac4"/><stop offset="22.2%" stop-color="#16bfb7"/><stop offset="33.3%" stop-color="#29c3aa"/><stop offset="44.4%" stop-color="#34c79b"/><stop offset="55.6%" stop-color="#44ca8a"/><stop offset="66.7%" stop-color="#5bcc77"/><stop offset="77.8%" stop-color="#74cc62"/><stop offset="88.9%" stop-color="#90ca4d"/><stop offset="100%" stop-color="#aac73a"/></linearGradient>
<linearGradient id="g84" gradientUnits="userSpaceOnUse" x1="62.7" y1="37.2" x2="62.7" y2="39.5"><stop offset="0%" stop-color="#07b5d0"/><stop offset="14.3%" stop-color="#02bac3"/><stop offset="28.6%" stop-color="#18bfb6"/><stop offset="42.9%" stop-color="#2bc3a7"/><stop offset="57.1%" stop-color="#37c898"/><stop offset="71.4%" stop-color="#49cb85"/><stop offset="85.7%" stop-color="#62cd70"/><stop offset="100%" stop-color="#7ecc5a"/></linearGradient>
<linearGradient id="g85" gradientUnits="userSpaceOnUse" x1="62.7" y1="38.8" x2="62.7" y2="36.5"><stop offset="0%" stop-color="#48cb86"/><stop offset="11.1%" stop-color="#5fcd73"/><stop offset="22.2%" stop-color="#79cc5f"/><stop offset="33.3%" stop-color="#94ca4a"/><stop offset="44.4%" stop-color="#adc638"/><stop offset="55.6%" stop-color="#c5c22a"/><stop offset="66.7%" stop-color="#dabd28"/><stop offset="77.8%" stop-color="#ecba33"/><stop offset="88.9%" stop-color="#fbbc3d"/><stop offset="100%" stop-color="#fec537"/></linearGradient>
<linearGradient id="g86" gradientUnits="userSpaceOnUse" x1="44.5" y1="40.1" x2="44.4" y2="39.3"><stop offset="0%" stop-color="#48cb86"/><stop offset="11.1%" stop-color="#5fcd73"/><stop offset="22.2%" stop-color="#79cc5f"/><stop offset="33.3%" stop-color="#94ca4a"/><stop offset="44.4%" stop-color="#adc638"/><stop offset="55.6%" stop-color="#c5c22a"/><stop offset="66.7%" stop-color="#dabd28"/><stop offset="77.8%" stop-color="#ecba33"/><stop offset="88.9%" stop-color="#fbbc3d"/><stop offset="100%" stop-color="#fec537"/></linearGradient>
<linearGradient id="g87" gradientUnits="userSpaceOnUse" x1="44.5" y1="39.9" x2="74.1" y2="21.6"><stop offset="0%" stop-color="#8dcb4f"/><stop offset="16.7%" stop-color="#a8c73b"/><stop offset="33.3%" stop-color="#c1c32c"/><stop offset="50%" stop-color="#d7be28"/><stop offset="66.7%" stop-color="#ebba31"/><stop offset="83.3%" stop-color="#fabb3d"/><stop offset="100%" stop-color="#fec537"/></linearGradient>
<linearGradient id="g88" gradientUnits="userSpaceOnUse" x1="26" y1="36.2" x2="26.2" y2="35"><stop offset="0%" stop-color="#8dcb4f"/><stop offset="12.5%" stop-color="#a6c83d"/><stop offset="25%" stop-color="#bec32e"/><stop offset="37.5%" stop-color="#d3bf27"/><stop offset="50%" stop-color="#e6bb2d"/><stop offset="62.5%" stop-color="#f6ba3b"/><stop offset="75%" stop-color="#fec13a"/><stop offset="87.5%" stop-color="#fdcb33"/><stop offset="100%" stop-color="#f9d62d"/></linearGradient>
<linearGradient id="g89" gradientUnits="userSpaceOnUse" x1="26.2" y1="34.8" x2="26.2" y2="35.1"><stop offset="0%" stop-color="#d1bf27"/><stop offset="12.5%" stop-color="#e5bb2d"/><stop offset="25%" stop-color="#f6ba3b"/><stop offset="37.5%" stop-color="#fec13a"/><stop offset="50%" stop-color="#fdcc32"/><stop offset="62.5%" stop-color="#f9d82c"/><stop offset="75%" stop-color="#f5e427"/><stop offset="87.5%" stop-color="#f6ef20"/><stop offset="100%" stop-color="#f9fa15"/></linearGradient>
<linearGradient id="g90" gradientUnits="userSpaceOnUse" x1="138.1" y1="35.9" x2="142.3" y2="22"><stop offset="0%" stop-color="#11b1d6"/><stop offset="12.5%" stop-color="#01b8ca"/><stop offset="25%" stop-color="#0abdbd"/><stop offset="37.5%" stop-color="#22c1b0"/><stop offset="50%" stop-color="#30c5a1"/><stop offset="62.5%" stop-color="#3dc991"/><stop offset="75%" stop-color="#52cc7e"/><stop offset="87.5%" stop-color="#6bcd69"/><stop offset="100%" stop-color="#87cb54"/></linearGradient>
<linearGradient id="g91" gradientUnits="userSpaceOnUse" x1="138.1" y1="35.9" x2="139.9" y2="44"><stop offset="0%" stop-color="#11b1d6"/><stop offset="14.3%" stop-color="#02b7cb"/><stop offset="28.6%" stop-color="#07bcc0"/><stop offset="42.9%" stop-color="#1cc0b3"/><stop offset="57.1%" stop-color="#2cc4a7"/><stop offset="71.4%" stop-color="#36c799"/><stop offset="85.7%" stop-color="#45cb89"/><stop offset="100%" stop-color="#5acc77"/></linearGradient>
<linearGradient id="g92" gradientUnits="userSpaceOnUse" x1="119.9" y1="32.7" x2="119.8" y2="33.1"><stop offset="0%" stop-color="#11b1d6"/><stop offset="11.1%" stop-color="#01b8c9"/><stop offset="22.2%" stop-color="#0cbdbc"/><stop offset="33.3%" stop-color="#24c1ae"/><stop offset="44.4%" stop-color="#31c69f"/><stop offset="55.6%" stop-color="#3fca8e"/><stop offset="66.7%" stop-color="#57cc7a"/><stop offset="77.8%" stop-color="#71cd64"/><stop offset="88.9%" stop-color="#8ecb4e"/><stop offset="100%" stop-color="#aac73a"/></linearGradient>
<linearGradient id="g93" gradientUnits="userSpaceOnUse" x1="121.5" y1="27.8" x2="119.6" y2="33.9"><stop offset="0%" stop-color="#58cc79"/><stop offset="25%" stop-color="#6ecd66"/><stop offset="50%" stop-color="#87cb54"/><stop offset="75%" stop-color="#a0c941"/><stop offset="100%" stop-color="#b7c532"/></linearGradient>
<linearGradient id="g94" gradientUnits="userSpaceOnUse" x1="101.6" y1="38.4" x2="111" y2="22.8"><stop offset="0%" stop-color="#7ecc5a"/><stop offset="50%" stop-color="#9bc944"/><stop offset="100%" stop-color="#b7c532"/></linearGradient>
<linearGradient id="g95" gradientUnits="userSpaceOnUse" x1="101.6" y1="38.4" x2="102.4" y2="46"><stop offset="0%" stop-color="#7ecc5a"/><stop offset="33.3%" stop-color="#97ca48"/><stop offset="66.7%" stop-color="#aec637"/><stop offset="100%" stop-color="#c4c22b"/></linearGradient>
<linearGradient id="g96" gradientUnits="userSpaceOnUse" x1="83.9" y1="34.3" x2="83.3" y2="36.5"><stop offset="0%" stop-color="#7ecc5a"/><stop offset="14.3%" stop-color="#98c947"/><stop offset="28.6%" stop-color="#b1c635"/><stop offset="42.9%" stop-color="#c8c129"/><stop offset="57.1%" stop-color="#dcbd29"/><stop offset="71.4%" stop-color="#edba33"/><stop offset="85.7%" stop-color="#fbbc3d"/><stop offset="100%" stop-color="#fec537"/></linearGradient>
<linearGradient id="g97" gradientUnits="userSpaceOnUse" x1="84.1" y1="50.6" x2="83.3" y2="36.5"><stop offset="0%" stop-color="#95ca49"/><stop offset="16.7%" stop-color="#aec637"/><stop offset="33.3%" stop-color="#c6c22a"/><stop offset="50%" stop-color="#dabd28"/><stop offset="66.7%" stop-color="#ecba33"/><stop offset="83.3%" stop-color="#fbbc3d"/><stop offset="100%" stop-color="#fec537"/></linearGradient>
<linearGradient id="g98" gradientUnits="userSpaceOnUse" x1="65" y1="48.9" x2="65.2" y2="36.2"><stop offset="0%" stop-color="#95ca49"/><stop offset="16.7%" stop-color="#aec637"/><stop offset="33.3%" stop-color="#c6c22a"/><stop offset="50%" stop-color="#dabd28"/><stop offset="66.7%" stop-color="#ecba33"/><stop offset="83.3%" stop-color="#fbbc3d"/><stop offset="100%" stop-color="#fec537"/></linearGradient>
<linearGradient id="g99" gradientUnits="userSpaceOnUse" x1="65.8" y1="40.6" x2="64.7" y2="45.3"><stop offset="0%" stop-color="#95ca49"/><stop offset="25%" stop-color="#aec637"/><stop offset="50%" stop-color="#c6c22a"/><stop offset="75%" stop-color="#dbbd29"/><stop offset="100%" stop-color="#edba34"/></linearGradient>
<linearGradient id="g100" gradientUnits="userSpaceOnUse" x1="47.4" y1="38.1" x2="46.8" y2="39.7"><stop offset="0%" stop-color="#d1bf27"/><stop offset="12.5%" stop-color="#e5bb2d"/><stop offset="25%" stop-color="#f6ba3b"/><stop offset="37.5%" stop-color="#fec13a"/><stop offset="50%" stop-color="#fdcc32"/><stop offset="62.5%" stop-color="#f9d82c"/><stop offset="75%" stop-color="#f5e427"/><stop offset="87.5%" stop-color="#f6ef20"/><stop offset="100%" stop-color="#f9fa15"/></linearGradient>
<linearGradient id="g101" gradientUnits="userSpaceOnUse" x1="47.7" y1="37.4" x2="46.8" y2="40"><stop offset="0%" stop-color="#edba34"/><stop offset="14.3%" stop-color="#fcbc3d"/><stop offset="28.6%" stop-color="#fec736"/><stop offset="42.9%" stop-color="#fbd32f"/><stop offset="57.1%" stop-color="#f6df29"/><stop offset="71.4%" stop-color="#f5eb23"/><stop offset="85.7%" stop-color="#f8f61a"/><stop offset="100%" stop-color="#f9fb15"/></linearGradient>
<linearGradient id="g102" gradientUnits="userSpaceOnUse" x1="158.8" y1="39.7" x2="160.6" y2="47.8"><stop offset="0%" stop-color="#58cc79"/><stop offset="20%" stop-color="#72cd63"/><stop offset="40%" stop-color="#8fcb4e"/><stop offset="60%" stop-color="#aac73a"/><stop offset="80%" stop-color="#c3c22b"/><stop offset="100%" stop-color="#dabd28"/></linearGradient>
<linearGradient id="g103" gradientUnits="userSpaceOnUse" x1="158.8" y1="39.7" x2="170.1" y2="57.2"><stop offset="0%" stop-color="#58cc79"/><stop offset="20%" stop-color="#72cd63"/><stop offset="40%" stop-color="#8fcb4e"/><stop offset="60%" stop-color="#aac73a"/><stop offset="80%" stop-color="#c3c22b"/><stop offset="100%" stop-color="#dabd28"/></linearGradient>
<linearGradient id="g104" gradientUnits="userSpaceOnUse" x1="140.8" y1="38" x2="140.5" y2="40.7"><stop offset="0%" stop-color="#58cc79"/><stop offset="25%" stop-color="#70cd65"/><stop offset="50%" stop-color="#8acb52"/><stop offset="75%" stop-color="#a3c83f"/><stop offset="100%" stop-color="#bbc430"/></linearGradient>
<linearGradient id="g105" gradientUnits="userSpaceOnUse" x1="139.7" y1="45.8" x2="140.8" y2="38.8"><stop offset="0%" stop-color="#aac73a"/><stop offset="100%" stop-color="#bbc430"/></linearGradient>
<linearGradient id="g106" gradientUnits="userSpaceOnUse" x1="153" y1="30.5" x2="122.2" y2="44.1"><stop offset="0%" stop-color="#aac73a"/><stop offset="100%" stop-color="#c4c22b"/></linearGradient>
<linearGradient id="g107" gradientUnits="userSpaceOnUse" x1="122.4" y1="43.2" x2="121.9" y2="46.5"><stop offset="0%" stop-color="#aac73a"/><stop offset="25%" stop-color="#c2c22c"/><stop offset="50%" stop-color="#d8be28"/><stop offset="75%" stop-color="#eaba31"/><stop offset="100%" stop-color="#fabb3d"/></linearGradient>
<linearGradient id="g108" gradientUnits="userSpaceOnUse" x1="104" y1="49.6" x2="134.9" y2="65.3"><stop offset="0%" stop-color="#95ca49"/><stop offset="20%" stop-color="#aec637"/><stop offset="40%" stop-color="#c5c22a"/><stop offset="60%" stop-color="#d9bd28"/><stop offset="80%" stop-color="#ebba31"/><stop offset="100%" stop-color="#fabb3d"/></linearGradient>
<linearGradient id="g109" gradientUnits="userSpaceOnUse" x1="104" y1="49.6" x2="104.4" y2="53.9"><stop offset="0%" stop-color="#95ca49"/><stop offset="16.7%" stop-color="#afc636"/><stop offset="33.3%" stop-color="#c8c129"/><stop offset="50%" stop-color="#ddbd29"/><stop offset="66.7%" stop-color="#f0ba36"/><stop offset="83.3%" stop-color="#fdbd3d"/><stop offset="100%" stop-color="#fec835"/></linearGradient>
<linearGradient id="g110" gradientUnits="userSpaceOnUse" x1="85.8" y1="49" x2="85.7" y2="50.9"><stop offset="0%" stop-color="#95ca49"/><stop offset="16.7%" stop-color="#afc636"/><stop offset="33.3%" stop-color="#c8c129"/><stop offset="50%" stop-color="#ddbd29"/><stop offset="66.7%" stop-color="#f0ba36"/><stop offset="83.3%" stop-color="#fdbd3d"/><stop offset="100%" stop-color="#fec835"/></linearGradient>
<linearGradient id="g111" gradientUnits="userSpaceOnUse" x1="85.8" y1="50.2" x2="85.8" y2="54.1"><stop offset="0%" stop-color="#edba34"/><stop offset="25%" stop-color="#fcbd3d"/><stop offset="50%" stop-color="#fec735"/><stop offset="75%" stop-color="#fbd32e"/><stop offset="100%" stop-color="#f6e028"/></linearGradient>
<linearGradient id="g112" gradientUnits="userSpaceOnUse" x1="67.5" y1="46.9" x2="67.5" y2="47"><stop offset="0%" stop-color="#edba34"/><stop offset="14.3%" stop-color="#fcbc3d"/><stop offset="28.6%" stop-color="#fec736"/><stop offset="42.9%" stop-color="#fbd32f"/><stop offset="57.1%" stop-color="#f6df29"/><stop offset="71.4%" stop-color="#f5eb23"/><stop offset="85.7%" stop-color="#f8f61a"/><stop offset="100%" stop-color="#f9fb15"/></linearGradient>
<linearGradient id="g113" gradientUnits="userSpaceOnUse" x1="68.6" y1="43.1" x2="67.2" y2="48.1"><stop offset="0%" stop-color="#f6e028"/><stop offset="25%" stop-color="#f5eb23"/><stop offset="50%" stop-color="#f7f61a"/><stop offset="75%" stop-color="#f9fb15"/><stop offset="100%" stop-color="#f9fb15"/></linearGradient>
<linearGradient id="g114" gradientUnits="userSpaceOnUse" x1="179.4" y1="44.5" x2="209.9" y2="60.9"><stop offset="0%" stop-color="#bbc430"/><stop offset="25%" stop-color="#cfc028"/><stop offset="50%" stop-color="#e1bc2b"/><stop offset="75%" stop-color="#f1ba37"/><stop offset="100%" stop-color="#fdbd3d"/></linearGradient>
<linearGradient id="g115" gradientUnits="userSpaceOnUse" x1="179.4" y1="44.5" x2="211.7" y2="30.3"><stop offset="0%" stop-color="#bbc430"/><stop offset="25%" stop-color="#cfc028"/><stop offset="50%" stop-color="#e1bc2b"/><stop offset="75%" stop-color="#f1ba37"/><stop offset="100%" stop-color="#fdbd3d"/></linearGradient>
<linearGradient id="g116" gradientUnits="userSpaceOnUse" x1="161.2" y1="49" x2="175.3" y2="68.7"><stop offset="0%" stop-color="#aac73a"/><stop offset="33.3%" stop-color="#bdc32e"/><stop offset="66.7%" stop-color="#cfc028"/><stop offset="100%" stop-color="#debc2a"/></linearGradient>
<linearGradient id="g117" gradientUnits="userSpaceOnUse" x1="161.2" y1="49" x2="161.6" y2="55.6"><stop offset="0%" stop-color="#aac73a"/><stop offset="33.3%" stop-color="#c4c22b"/><stop offset="66.7%" stop-color="#dbbd29"/><stop offset="100%" stop-color="#efba35"/></linearGradient>
<linearGradient id="g118" gradientUnits="userSpaceOnUse" x1="143.3" y1="46.6" x2="142.9" y2="49.6"><stop offset="0%" stop-color="#aac73a"/><stop offset="25%" stop-color="#c2c22c"/><stop offset="50%" stop-color="#d8be28"/><stop offset="75%" stop-color="#eaba31"/><stop offset="100%" stop-color="#fabb3d"/></linearGradient>
<linearGradient id="g119" gradientUnits="userSpaceOnUse" x1="171" y1="34.3" x2="142.9" y2="49.6"><stop offset="0%" stop-color="#efba35"/><stop offset="100%" stop-color="#fabb3d"/></linearGradient>
<linearGradient id="g120" gradientUnits="userSpaceOnUse" x1="131.2" y1="40.1" x2="124.7" y2="52.2"><stop offset="0%" stop-color="#f5ba3b"/><stop offset="50%" stop-color="#febf3b"/><stop offset="100%" stop-color="#fec835"/></linearGradient>
<linearGradient id="g121" gradientUnits="userSpaceOnUse" x1="125.1" y1="49.9" x2="124.2" y2="54.2"><stop offset="0%" stop-color="#f5ba3b"/><stop offset="33.3%" stop-color="#fec239"/><stop offset="66.7%" stop-color="#fdce31"/><stop offset="100%" stop-color="#f8da2b"/></linearGradient>
<linearGradient id="g122" gradientUnits="userSpaceOnUse" x1="107" y1="49.7" x2="106.4" y2="54"><stop offset="0%" stop-color="#fec835"/><stop offset="50%" stop-color="#fad42e"/><stop offset="100%" stop-color="#f6e028"/></linearGradient>
<linearGradient id="g123" gradientUnits="userSpaceOnUse" x1="106.5" y1="53.6" x2="106.1" y2="56.6"><stop offset="0%" stop-color="#f8da2b"/><stop offset="33.3%" stop-color="#f5e725"/><stop offset="66.7%" stop-color="#f7f31d"/><stop offset="100%" stop-color="#f9fb15"/></linearGradient>
<linearGradient id="g124" gradientUnits="userSpaceOnUse" x1="88.6" y1="51.3" x2="88.1" y2="54.1"><stop offset="0%" stop-color="#f6e028"/><stop offset="25%" stop-color="#f5eb23"/><stop offset="50%" stop-color="#f7f61a"/><stop offset="75%" stop-color="#f9fb15"/><stop offset="100%" stop-color="#f9fb15"/></linearGradient>
<linearGradient id="g125" gradientUnits="userSpaceOnUse" x1="100.6" y1="38.3" x2="88.1" y2="54.1"><stop offset="0%" stop-color="#f9fb15"/><stop offset="100%" stop-color="#f9fb15"/></linearGradient>
<linearGradient id="g126" gradientUnits="userSpaceOnUse" x1="132.1" y1="4.5" x2="117.5" y2="20.3"><stop offset="0%" stop-color="#63cd70"/><stop offset="33.3%" stop-color="#7ecc5b"/><stop offset="66.7%" stop-color="#99c946"/><stop offset="100%" stop-color="#b3c534"/></linearGradient>
<linearGradient id="g127" gradientUnits="userSpaceOnUse" x1="117.2" y1="34.1" x2="117.5" y2="20.3"><stop offset="0%" stop-color="#23c1af"/><stop offset="14.3%" stop-color="#30c5a2"/><stop offset="28.6%" stop-color="#3bc992"/><stop offset="42.9%" stop-color="#4ecc81"/><stop offset="57.1%" stop-color="#66cd6e"/><stop offset="71.4%" stop-color="#80cc59"/><stop offset="85.7%" stop-color="#9ac945"/><stop offset="100%" stop-color="#b3c534"/></linearGradient>
<linearGradient id="g128" gradientUnits="userSpaceOnUse" x1="99.2" y1="36" x2="102.7" y2="17.5"><stop offset="0%" stop-color="#259be8"/><stop offset="8.3%" stop-color="#20a4e3"/><stop offset="16.7%" stop-color="#19addc"/><stop offset="25%" stop-color="#09b4d1"/><stop offset="33.3%" stop-color="#02bac5"/><stop offset="41.7%" stop-color="#15bfb7"/><stop offset="50%" stop-color="#2ac3a9"/><stop offset="58.3%" stop-color="#35c79a"/><stop offset="66.7%" stop-color="#46cb87"/><stop offset="75%" stop-color="#5fcd73"/><stop offset="83.3%" stop-color="#7bcc5d"/><stop offset="91.7%" stop-color="#97ca47"/><stop offset="100%" stop-color="#b3c534"/></linearGradient>
<linearGradient id="g129" gradientUnits="userSpaceOnUse" x1="99.2" y1="36" x2="99.4" y2="28.7"><stop offset="0%" stop-color="#259be8"/><stop offset="6.7%" stop-color="#20a4e3"/><stop offset="13.3%" stop-color="#19addc"/><stop offset="20%" stop-color="#09b4d1"/><stop offset="26.7%" stop-color="#02bac5"/><stop offset="33.3%" stop-color="#15bfb7"/><stop offset="40%" stop-color="#2ac3a9"/><stop offset="46.7%" stop-color="#35c79a"/><stop offset="53.3%" stop-color="#46cb88"/><stop offset="60%" stop-color="#5fcd73"/><stop offset="66.7%" stop-color="#7bcc5d"/><stop offset="73.3%" stop-color="#97ca47"/><stop offset="80%" stop-color="#b3c534"/><stop offset="86.7%" stop-color="#cbc029"/><stop offset="93.3%" stop-color="#e1bc2b"/><stop offset="100%" stop-color="#f3ba39"/></linearGradient>
<linearGradient id="g130" gradientUnits="userSpaceOnUse" x1="80.4" y1="34.6" x2="81.1" y2="26.3"><stop offset="0%" stop-color="#259be8"/><stop offset="6.7%" stop-color="#20a4e3"/><stop offset="13.3%" stop-color="#19addc"/><stop offset="20%" stop-color="#09b4d1"/><stop offset="26.7%" stop-color="#02bac5"/><stop offset="33.3%" stop-color="#15bfb7"/><stop offset="40%" stop-color="#2ac3a9"/><stop offset="46.7%" stop-color="#35c79a"/><stop offset="53.3%" stop-color="#46cb88"/><stop offset="60%" stop-color="#5fcd73"/><stop offset="66.7%" stop-color="#7bcc5d"/><stop offset="73.3%" stop-color="#97ca47"/><stop offset="80%" stop-color="#b3c534"/><stop offset="86.7%" stop-color="#cbc029"/><stop offset="93.3%" stop-color="#e1bc2b"/><stop offset="100%" stop-color="#f3ba39"/></linearGradient>
<linearGradient id="g131" gradientUnits="userSpaceOnUse" x1="81" y1="27.7" x2="113.1" y2="43.2"><stop offset="0%" stop-color="#bfc32d"/><stop offset="33.3%" stop-color="#d3bf27"/><stop offset="66.7%" stop-color="#e4bb2c"/><stop offset="100%" stop-color="#f3ba39"/></linearGradient>
<linearGradient id="g132" gradientUnits="userSpaceOnUse" x1="62.7" y1="35.2" x2="76.4" y2="16.1"><stop offset="0%" stop-color="#5acc78"/><stop offset="16.7%" stop-color="#71cd64"/><stop offset="33.3%" stop-color="#8acb52"/><stop offset="50%" stop-color="#a2c83f"/><stop offset="66.7%" stop-color="#b9c430"/><stop offset="83.3%" stop-color="#cec028"/><stop offset="100%" stop-color="#e1bc2b"/></linearGradient>
<linearGradient id="g133" gradientUnits="userSpaceOnUse" x1="60.8" y1="45.8" x2="64.1" y2="27.3"><stop offset="0%" stop-color="#1aabdd"/><stop offset="8.3%" stop-color="#0db3d3"/><stop offset="16.7%" stop-color="#01b9c7"/><stop offset="25%" stop-color="#12beb9"/><stop offset="33.3%" stop-color="#28c2ab"/><stop offset="41.7%" stop-color="#34c79b"/><stop offset="50%" stop-color="#44cb89"/><stop offset="58.3%" stop-color="#5dcc75"/><stop offset="66.7%" stop-color="#79cc5e"/><stop offset="75%" stop-color="#96ca48"/><stop offset="83.3%" stop-color="#b2c635"/><stop offset="91.7%" stop-color="#cbc129"/><stop offset="100%" stop-color="#e1bc2b"/></linearGradient>
<linearGradient id="g134" gradientUnits="userSpaceOnUse" x1="45.9" y1="54" x2="44.1" y2="37.2"><stop offset="0%" stop-color="#1aabdd"/><stop offset="14.3%" stop-color="#0db3d3"/><stop offset="28.6%" stop-color="#01b9c7"/><stop offset="42.9%" stop-color="#10beba"/><stop offset="57.1%" stop-color="#27c2ac"/><stop offset="71.4%" stop-color="#33c69d"/><stop offset="85.7%" stop-color="#42ca8b"/><stop offset="100%" stop-color="#5acc78"/></linearGradient>
<linearGradient id="g135" gradientUnits="userSpaceOnUse" x1="45.7" y1="57.9" x2="44.5" y2="40.5"><stop offset="0%" stop-color="#2995ec"/><stop offset="12.5%" stop-color="#249ee6"/><stop offset="25%" stop-color="#1ea8e1"/><stop offset="37.5%" stop-color="#14b0d8"/><stop offset="50%" stop-color="#03b6cc"/><stop offset="62.5%" stop-color="#07bcbf"/><stop offset="75%" stop-color="#1fc1b1"/><stop offset="87.5%" stop-color="#2fc5a3"/><stop offset="100%" stop-color="#3cc992"/></linearGradient>
<linearGradient id="g136" gradientUnits="userSpaceOnUse" x1="49.3" y1="23.8" x2="26.2" y2="35"><stop offset="0%" stop-color="#2995ec"/><stop offset="5.6%" stop-color="#249ee6"/><stop offset="11.1%" stop-color="#1ea7e1"/><stop offset="16.7%" stop-color="#15afd9"/><stop offset="22.2%" stop-color="#04b6cd"/><stop offset="27.8%" stop-color="#06bcc0"/><stop offset="33.3%" stop-color="#1dc0b3"/><stop offset="38.9%" stop-color="#2ec4a5"/><stop offset="44.4%" stop-color="#39c995"/><stop offset="50%" stop-color="#4dcc82"/><stop offset="55.6%" stop-color="#66cd6d"/><stop offset="61.1%" stop-color="#83cc57"/><stop offset="66.7%" stop-color="#9fc942"/><stop offset="72.2%" stop-color="#b9c430"/><stop offset="77.8%" stop-color="#d1bf27"/><stop offset="83.3%" stop-color="#e6bb2d"/><stop offset="88.9%" stop-color="#f7ba3c"/><stop offset="94.4%" stop-color="#fec239"/><stop offset="100%" stop-color="#fdce31"/></linearGradient>
<linearGradient id="g137" gradientUnits="userSpaceOnUse" x1="29" y1="71.2" x2="26.2" y2="35"><stop offset="0%" stop-color="#4435d0"/><stop offset="3.8%" stop-color="#473fe2"/><stop offset="7.7%" stop-color="#484aee"/><stop offset="11.5%" stop-color="#4755f6"/><stop offset="15.4%" stop-color="#4561fc"/><stop offset="19.2%" stop-color="#406dfe"/><stop offset="23.1%" stop-color="#3579fd"/><stop offset="26.9%" stop-color="#2e85f8"/><stop offset="30.8%" stop-color="#2c8ff0"/><stop offset="34.6%" stop-color="#2699e9"/><stop offset="38.5%" stop-color="#21a3e3"/><stop offset="42.3%" stop-color="#1aacdd"/><stop offset="46.2%" stop-color="#0bb3d2"/><stop offset="50%" stop-color="#01bac6"/><stop offset="53.8%" stop-color="#14beb8"/><stop offset="57.7%" stop-color="#29c3a9"/><stop offset="61.5%" stop-color="#35c79a"/><stop offset="65.4%" stop-color="#47cb87"/><stop offset="69.2%" stop-color="#60cd72"/><stop offset="73.1%" stop-color="#7ccc5c"/><stop offset="76.9%" stop-color="#9ac946"/><stop offset="80.8%" stop-color="#b5c533"/><stop offset="84.6%" stop-color="#cec028"/><stop offset="88.5%" stop-color="#e4bb2c"/><stop offset="92.3%" stop-color="#f6ba3b"/><stop offset="96.2%" stop-color="#fec239"/><stop offset="100%" stop-color="#fdce31"/></linearGradient>
<linearGradient id="g138" gradientUnits="userSpaceOnUse" x1="138.1" y1="34.4" x2="169.1" y2="48"><stop offset="0%" stop-color="#23c1af"/><stop offset="11.1%" stop-color="#30c5a1"/><stop offset="22.2%" stop-color="#3dc990"/><stop offset="33.3%" stop-color="#53cc7d"/><stop offset="44.4%" stop-color="#6ccd68"/><stop offset="55.6%" stop-color="#88cb53"/><stop offset="66.7%" stop-color="#a3c83e"/><stop offset="77.8%" stop-color="#bdc32e"/><stop offset="88.9%" stop-color="#d4bf28"/><stop offset="100%" stop-color="#e8bb2f"/></linearGradient>
<linearGradient id="g139" gradientUnits="userSpaceOnUse" x1="138.1" y1="34.4" x2="146.8" y2="15.8"><stop offset="0%" stop-color="#23c1af"/><stop offset="11.1%" stop-color="#30c5a1"/><stop offset="22.2%" stop-color="#3dc990"/><stop offset="33.3%" stop-color="#53cc7d"/><stop offset="44.4%" stop-color="#6ccd68"/><stop offset="55.6%" stop-color="#88cb53"/><stop offset="66.7%" stop-color="#a3c83e"/><stop offset="77.8%" stop-color="#bdc32e"/><stop offset="88.9%" stop-color="#d4bf28"/><stop offset="100%" stop-color="#e8bb2f"/></linearGradient>
<linearGradient id="g140" gradientUnits="userSpaceOnUse" x1="120.1" y1="28.5" x2="119.8" y2="29.3"><stop offset="0%" stop-color="#23c1af"/><stop offset="10%" stop-color="#30c5a1"/><stop offset="20%" stop-color="#3cc991"/><stop offset="30%" stop-color="#50cc7f"/><stop offset="40%" stop-color="#68cd6b"/><stop offset="50%" stop-color="#83cc57"/><stop offset="60%" stop-color="#9ec942"/><stop offset="70%" stop-color="#b7c532"/><stop offset="80%" stop-color="#cec028"/><stop offset="90%" stop-color="#e2bc2b"/><stop offset="100%" stop-color="#f3ba39"/></linearGradient>
<linearGradient id="g141" gradientUnits="userSpaceOnUse" x1="122.5" y1="23.8" x2="119.8" y2="29.3"><stop offset="0%" stop-color="#32c69f"/><stop offset="11.1%" stop-color="#3eca8f"/><stop offset="22.2%" stop-color="#53cc7d"/><stop offset="33.3%" stop-color="#6bcd69"/><stop offset="44.4%" stop-color="#85cb55"/><stop offset="55.6%" stop-color="#9fc941"/><stop offset="66.7%" stop-color="#b8c431"/><stop offset="77.8%" stop-color="#cfc028"/><stop offset="88.9%" stop-color="#e2bc2b"/><stop offset="100%" stop-color="#f3ba39"/></linearGradient>
<linearGradient id="g142" gradientUnits="userSpaceOnUse" x1="101.5" y1="35.1" x2="102.1" y2="27.8"><stop offset="0%" stop-color="#debc2a"/><stop offset="50%" stop-color="#e9bb30"/><stop offset="100%" stop-color="#f3ba39"/></linearGradient>
<linearGradient id="g143" gradientUnits="userSpaceOnUse" x1="101.7" y1="33.5" x2="101.1" y2="38.6"><stop offset="0%" stop-color="#debc2a"/><stop offset="50%" stop-color="#e9bb2f"/><stop offset="100%" stop-color="#f2ba38"/></linearGradient>
<linearGradient id="g144" gradientUnits="userSpaceOnUse" x1="83.3" y1="49.9" x2="92.5" y2="28.5"><stop offset="0%" stop-color="#1aabdd"/><stop offset="7.7%" stop-color="#0db3d3"/><stop offset="15.4%" stop-color="#01b9c7"/><stop offset="23.1%" stop-color="#11beb9"/><stop offset="30.8%" stop-color="#27c2ab"/><stop offset="38.5%" stop-color="#34c79c"/><stop offset="46.2%" stop-color="#43ca8a"/><stop offset="53.8%" stop-color="#5ccc76"/><stop offset="61.5%" stop-color="#77cc60"/><stop offset="69.2%" stop-color="#94ca4a"/><stop offset="76.9%" stop-color="#b0c636"/><stop offset="84.6%" stop-color="#c9c129"/><stop offset="92.3%" stop-color="#dfbc2a"/><stop offset="100%" stop-color="#f2ba38"/></linearGradient>
<linearGradient id="g145" gradientUnits="userSpaceOnUse" x1="83.3" y1="49.9" x2="82.8" y2="41.6"><stop offset="0%" stop-color="#1aabdd"/><stop offset="5.6%" stop-color="#0db3d3"/><stop offset="11.1%" stop-color="#01b9c7"/><stop offset="16.7%" stop-color="#10beba"/><stop offset="22.2%" stop-color="#27c2ac"/><stop offset="27.8%" stop-color="#33c69d"/><stop offset="33.3%" stop-color="#42ca8b"/><stop offset="38.9%" stop-color="#5acc77"/><stop offset="44.4%" stop-color="#75cc61"/><stop offset="50%" stop-color="#92ca4c"/><stop offset="55.6%" stop-color="#adc638"/><stop offset="61.1%" stop-color="#c7c12a"/><stop offset="66.7%" stop-color="#ddbd29"/><stop offset="72.2%" stop-color="#f0ba36"/><stop offset="77.8%" stop-color="#febe3c"/><stop offset="83.3%" stop-color="#fec934"/><stop offset="88.9%" stop-color="#fad52d"/><stop offset="94.4%" stop-color="#f5e227"/><stop offset="100%" stop-color="#f5ee21"/></linearGradient>
<linearGradient id="g146" gradientUnits="userSpaceOnUse" x1="65.1" y1="56.5" x2="64.2" y2="53.7"><stop offset="0%" stop-color="#2995ec"/><stop offset="5%" stop-color="#249ee6"/><stop offset="10%" stop-color="#1da8e0"/><stop offset="15%" stop-color="#14b0d8"/><stop offset="20%" stop-color="#03b7cc"/><stop offset="25%" stop-color="#08bcbe"/><stop offset="30%" stop-color="#21c1b0"/><stop offset="35%" stop-color="#30c5a1"/><stop offset="40%" stop-color="#3dc990"/><stop offset="45%" stop-color="#54cc7d"/><stop offset="50%" stop-color="#6ecd66"/><stop offset="55%" stop-color="#8ccb50"/><stop offset="60%" stop-color="#a8c73b"/><stop offset="65%" stop-color="#c3c22b"/><stop offset="70%" stop-color="#dabd28"/><stop offset="75%" stop-color="#eeba34"/><stop offset="80%" stop-color="#fdbd3d"/><stop offset="85%" stop-color="#fec834"/><stop offset="90%" stop-color="#fad52e"/><stop offset="95%" stop-color="#f5e228"/><stop offset="100%" stop-color="#f5ee21"/></linearGradient>
<linearGradient id="g147" gradientUnits="userSpaceOnUse" x1="65.1" y1="56.5" x2="101.9" y2="36.4"><stop offset="0%" stop-color="#2995ec"/><stop offset="5%" stop-color="#249ee6"/><stop offset="10%" stop-color="#1da8e0"/><stop offset="15%" stop-color="#14b0d8"/><stop offset="20%" stop-color="#03b7cc"/><stop offset="25%" stop-color="#08bcbe"/><stop offset="30%" stop-color="#21c1b0"/><stop offset="35%" stop-color="#30c5a1"/><stop offset="40%" stop-color="#3dc990"/><stop offset="45%" stop-color="#54cc7d"/><stop offset="50%" stop-color="#6ecd66"/><stop offset="55%" stop-color="#8ccb50"/><stop offset="60%" stop-color="#a8c73b"/><stop offset="65%" stop-color="#c3c22b"/><stop offset="70%" stop-color="#dabd28"/><stop offset="75%" stop-color="#eeba34"/><stop offset="80%" stop-color="#fdbd3d"/><stop offset="85%" stop-color="#fec834"/><stop offset="90%" stop-color="#fad52e"/><stop offset="95%" stop-color="#f5e228"/><stop offset="100%" stop-color="#f5ee21"/></linearGradient>
<linearGradient id="g148" gradientUnits="userSpaceOnUse" x1="46.8" y1="69.9" x2="86.9" y2="64.8"><stop offset="0%" stop-color="#4435d0"/><stop offset="5.6%" stop-color="#473ee1"/><stop offset="11.1%" stop-color="#4849ed"/><stop offset="16.7%" stop-color="#4854f6"/><stop offset="22.2%" stop-color="#465ffb"/><stop offset="27.8%" stop-color="#416bfe"/><stop offset="33.3%" stop-color="#3777fe"/><stop offset="38.9%" stop-color="#2f82f9"/><stop offset="44.4%" stop-color="#2d8df2"/><stop offset="50%" stop-color="#2797eb"/><stop offset="55.6%" stop-color="#23a0e5"/><stop offset="61.1%" stop-color="#1da9e0"/><stop offset="66.7%" stop-color="#12b1d7"/><stop offset="72.2%" stop-color="#02b7cb"/><stop offset="77.8%" stop-color="#09bcbe"/><stop offset="83.3%" stop-color="#20c1b1"/><stop offset="88.9%" stop-color="#2fc5a2"/><stop offset="94.4%" stop-color="#3cc992"/><stop offset="100%" stop-color="#51cc7f"/></linearGradient>
<linearGradient id="g149" gradientUnits="userSpaceOnUse" x1="46.8" y1="69.9" x2="45.4" y2="61.1"><stop offset="0%" stop-color="#4435d0"/><stop offset="5%" stop-color="#473ee1"/><stop offset="10%" stop-color="#4849ed"/><stop offset="15%" stop-color="#4854f5"/><stop offset="20%" stop-color="#465ffb"/><stop offset="25%" stop-color="#416afe"/><stop offset="30%" stop-color="#3776fe"/><stop offset="35%" stop-color="#2f82fa"/><stop offset="40%" stop-color="#2d8cf3"/><stop offset="45%" stop-color="#2796eb"/><stop offset="50%" stop-color="#23a0e5"/><stop offset="55%" stop-color="#1da9e0"/><stop offset="60%" stop-color="#13b0d7"/><stop offset="65%" stop-color="#03b7cc"/><stop offset="70%" stop-color="#08bcbf"/><stop offset="75%" stop-color="#20c1b1"/><stop offset="80%" stop-color="#2fc5a3"/><stop offset="85%" stop-color="#3bc992"/><stop offset="90%" stop-color="#50cc80"/><stop offset="95%" stop-color="#69cd6b"/><stop offset="100%" stop-color="#85cb55"/></linearGradient>
<linearGradient id="g150" gradientUnits="userSpaceOnUse" x1="158.5" y1="48" x2="159.2" y2="29.3"><stop offset="0%" stop-color="#14b0d8"/><stop offset="8.3%" stop-color="#04b6cd"/><stop offset="16.7%" stop-color="#07bcc0"/><stop offset="25%" stop-color="#1ec0b2"/><stop offset="33.3%" stop-color="#2ec5a4"/><stop offset="41.7%" stop-color="#3ac993"/><stop offset="50%" stop-color="#4fcc80"/><stop offset="58.3%" stop-color="#69cd6b"/><stop offset="66.7%" stop-color="#85cb55"/><stop offset="75%" stop-color="#a1c840"/><stop offset="83.3%" stop-color="#bcc42f"/><stop offset="91.7%" stop-color="#d4bf27"/><stop offset="100%" stop-color="#e8bb2f"/></linearGradient>
<linearGradient id="g151" gradientUnits="userSpaceOnUse" x1="158.5" y1="42.7" x2="159.1" y2="39.3"><stop offset="0%" stop-color="#14b0d8"/><stop offset="9.1%" stop-color="#04b6cd"/><stop offset="18.2%" stop-color="#07bcc0"/><stop offset="27.3%" stop-color="#1ec0b2"/><stop offset="36.4%" stop-color="#2ec5a4"/><stop offset="45.5%" stop-color="#3ac993"/><stop offset="54.5%" stop-color="#4fcc80"/><stop offset="63.6%" stop-color="#69cd6b"/><stop offset="72.7%" stop-color="#85cb55"/><stop offset="81.8%" stop-color="#a1c840"/><stop offset="90.9%" stop-color="#bcc42f"/><stop offset="100%" stop-color="#d4bf27"/></linearGradient>
<linearGradient id="g152" gradientUnits="userSpaceOnUse" x1="140.4" y1="39.3" x2="140.5" y2="38.3"><stop offset="0%" stop-color="#32c69f"/><stop offset="12.5%" stop-color="#3dca90"/><stop offset="25%" stop-color="#51cc7f"/><stop offset="37.5%" stop-color="#68cd6b"/><stop offset="50%" stop-color="#82cc58"/><stop offset="62.5%" stop-color="#9cc944"/><stop offset="75%" stop-color="#b4c534"/><stop offset="87.5%" stop-color="#cac129"/><stop offset="100%" stop-color="#debc2a"/></linearGradient>
<linearGradient id="g153" gradientUnits="userSpaceOnUse" x1="140.6" y1="37.8" x2="140.1" y2="41.1"><stop offset="0%" stop-color="#d4bf27"/><stop offset="33.3%" stop-color="#e8bb2f"/><stop offset="66.7%" stop-color="#f9bb3d"/><stop offset="100%" stop-color="#fec537"/></linearGradient>
<linearGradient id="g154" gradientUnits="userSpaceOnUse" x1="122.2" y1="38.7" x2="122.3" y2="44.7"><stop offset="0%" stop-color="#debc2a"/><stop offset="33.3%" stop-color="#eeba35"/><stop offset="66.7%" stop-color="#fbbc3d"/><stop offset="100%" stop-color="#fec537"/></linearGradient>
<linearGradient id="g155" gradientUnits="userSpaceOnUse" x1="122.2" y1="41.2" x2="143" y2="62"><stop offset="0%" stop-color="#f2ba38"/><stop offset="50%" stop-color="#fdbd3d"/><stop offset="100%" stop-color="#fec537"/></linearGradient>
<linearGradient id="g156" gradientUnits="userSpaceOnUse" x1="105.2" y1="36.2" x2="104" y2="40.2"><stop offset="0%" stop-color="#f2ba38"/><stop offset="20%" stop-color="#febf3c"/><stop offset="40%" stop-color="#feca33"/><stop offset="60%" stop-color="#f9d62d"/><stop offset="80%" stop-color="#f5e227"/><stop offset="100%" stop-color="#f5ee21"/></linearGradient>
<linearGradient id="g157" gradientUnits="userSpaceOnUse" x1="127.7" y1="63.6" x2="104" y2="40.2"><stop offset="0%" stop-color="#febf3b"/><stop offset="25%" stop-color="#feca33"/><stop offset="50%" stop-color="#f9d62d"/><stop offset="75%" stop-color="#f5e227"/><stop offset="100%" stop-color="#f5ee21"/></linearGradient>
<linearGradient id="g158" gradientUnits="userSpaceOnUse" x1="85.8" y1="55.4" x2="91.3" y2="36.5"><stop offset="0%" stop-color="#51cc7f"/><stop offset="8.3%" stop-color="#69cd6b"/><stop offset="16.7%" stop-color="#84cb56"/><stop offset="25%" stop-color="#9fc942"/><stop offset="33.3%" stop-color="#b8c431"/><stop offset="41.7%" stop-color="#cfc028"/><stop offset="50%" stop-color="#e3bc2c"/><stop offset="58.3%" stop-color="#f4ba3a"/><stop offset="66.7%" stop-color="#fec03b"/><stop offset="75%" stop-color="#fdcb33"/><stop offset="83.3%" stop-color="#f9d72d"/><stop offset="91.7%" stop-color="#f5e327"/><stop offset="100%" stop-color="#f5ee21"/></linearGradient>
<linearGradient id="g159" gradientUnits="userSpaceOnUse" x1="85.8" y1="55.4" x2="85.9" y2="56.6"><stop offset="0%" stop-color="#51cc7f"/><stop offset="10%" stop-color="#6acd6a"/><stop offset="20%" stop-color="#87cb54"/><stop offset="30%" stop-color="#a2c83f"/><stop offset="40%" stop-color="#bcc42f"/><stop offset="50%" stop-color="#d4bf28"/><stop offset="60%" stop-color="#e8bb2f"/><stop offset="70%" stop-color="#f9bb3d"/><stop offset="80%" stop-color="#fec438"/><stop offset="90%" stop-color="#fcd030"/><stop offset="100%" stop-color="#f7dc2a"/></linearGradient>
<linearGradient id="g160" gradientUnits="userSpaceOnUse" x1="67.5" y1="57.4" x2="67.5" y2="57.9"><stop offset="0%" stop-color="#51cc7f"/><stop offset="10%" stop-color="#6acd6a"/><stop offset="20%" stop-color="#87cb54"/><stop offset="30%" stop-color="#a2c83f"/><stop offset="40%" stop-color="#bcc42f"/><stop offset="50%" stop-color="#d4bf28"/><stop offset="60%" stop-color="#e8bb2f"/><stop offset="70%" stop-color="#f9bb3d"/><stop offset="80%" stop-color="#fec438"/><stop offset="90%" stop-color="#fcd030"/><stop offset="100%" stop-color="#f7dc2a"/></linearGradient>
<linearGradient id="g161" gradientUnits="userSpaceOnUse" x1="67.5" y1="57.5" x2="67.4" y2="56.6"><stop offset="0%" stop-color="#85cb55"/><stop offset="9.1%" stop-color="#a0c841"/><stop offset="18.2%" stop-color="#b9c430"/><stop offset="27.3%" stop-color="#d0bf27"/><stop offset="36.4%" stop-color="#e4bb2c"/><stop offset="45.5%" stop-color="#f5ba3b"/><stop offset="54.5%" stop-color="#fec13a"/><stop offset="63.6%" stop-color="#fdcc32"/><stop offset="72.7%" stop-color="#f9d82c"/><stop offset="81.8%" stop-color="#f5e427"/><stop offset="90.9%" stop-color="#f6ef20"/><stop offset="100%" stop-color="#f9fa15"/></linearGradient>
<linearGradient id="g162" gradientUnits="userSpaceOnUse" x1="179" y1="47.9" x2="179.5" y2="42.2"><stop offset="0%" stop-color="#14b0d8"/><stop offset="7.7%" stop-color="#04b6cd"/><stop offset="15.4%" stop-color="#05bbc1"/><stop offset="23.1%" stop-color="#1bc0b4"/><stop offset="30.8%" stop-color="#2cc4a7"/><stop offset="38.5%" stop-color="#37c898"/><stop offset="46.2%" stop-color="#48cb86"/><stop offset="53.8%" stop-color="#60cd73"/><stop offset="61.5%" stop-color="#7acc5e"/><stop offset="69.2%" stop-color="#95ca49"/><stop offset="76.9%" stop-color="#afc637"/><stop offset="84.6%" stop-color="#c7c12a"/><stop offset="92.3%" stop-color="#dcbd29"/><stop offset="100%" stop-color="#eeba35"/></linearGradient>
<linearGradient id="g163" gradientUnits="userSpaceOnUse" x1="179.4" y1="42.8" x2="179.5" y2="48.6"><stop offset="0%" stop-color="#d4bf27"/><stop offset="33.3%" stop-color="#e5bb2d"/><stop offset="66.7%" stop-color="#f4ba39"/><stop offset="100%" stop-color="#febe3c"/></linearGradient>
<linearGradient id="g164" gradientUnits="userSpaceOnUse" x1="161.6" y1="40.4" x2="161.2" y2="43.8"><stop offset="0%" stop-color="#d4bf27"/><stop offset="33.3%" stop-color="#e8bb2f"/><stop offset="66.7%" stop-color="#f9bb3d"/><stop offset="100%" stop-color="#fec537"/></linearGradient>
<linearGradient id="g165" gradientUnits="userSpaceOnUse" x1="160.8" y1="52.5" x2="161.2" y2="43.8"><stop offset="0%" stop-color="#f0ba36"/><stop offset="50%" stop-color="#fcbc3d"/><stop offset="100%" stop-color="#fec537"/></linearGradient>
<linearGradient id="g166" gradientUnits="userSpaceOnUse" x1="143.4" y1="55.7" x2="142.7" y2="44.9"><stop offset="0%" stop-color="#f0ba36"/><stop offset="50%" stop-color="#fcbc3d"/><stop offset="100%" stop-color="#fec537"/></linearGradient>
<linearGradient id="g167" gradientUnits="userSpaceOnUse" x1="169.6" y1="32.6" x2="142.9" y2="48.2"><stop offset="0%" stop-color="#f0ba36"/><stop offset="50%" stop-color="#f9bb3d"/><stop offset="100%" stop-color="#febf3b"/></linearGradient>
<linearGradient id="g168" gradientUnits="userSpaceOnUse" x1="134.8" y1="36.5" x2="124.7" y2="50.9"><stop offset="0%" stop-color="#fabb3d"/><stop offset="50%" stop-color="#fec438"/><stop offset="100%" stop-color="#fdce31"/></linearGradient>
<linearGradient id="g169" gradientUnits="userSpaceOnUse" x1="124.7" y1="50.4" x2="124.5" y2="51.9"><stop offset="0%" stop-color="#fabb3d"/><stop offset="16.7%" stop-color="#fec338"/><stop offset="33.3%" stop-color="#fdcd31"/><stop offset="50%" stop-color="#f9d82c"/><stop offset="66.7%" stop-color="#f5e327"/><stop offset="83.3%" stop-color="#f5ed22"/><stop offset="100%" stop-color="#f8f719"/></linearGradient>
<linearGradient id="g170" gradientUnits="userSpaceOnUse" x1="106.3" y1="51.9" x2="106.6" y2="57.3"><stop offset="0%" stop-color="#fdce31"/><stop offset="25%" stop-color="#f8d92c"/><stop offset="50%" stop-color="#f5e327"/><stop offset="75%" stop-color="#f5ed21"/><stop offset="100%" stop-color="#f8f719"/></linearGradient>
<linearGradient id="g171" gradientUnits="userSpaceOnUse" x1="106.4" y1="53.7" x2="108" y2="62.5"><stop offset="0%" stop-color="#f7dc2a"/><stop offset="33.3%" stop-color="#f5e626"/><stop offset="66.7%" stop-color="#f6ef20"/><stop offset="100%" stop-color="#f8f917"/></linearGradient>
<linearGradient id="g172" gradientUnits="userSpaceOnUse" x1="88.5" y1="51.7" x2="88.1" y2="54.9"><stop offset="0%" stop-color="#f7dc2a"/><stop offset="33.3%" stop-color="#f5e625"/><stop offset="66.7%" stop-color="#f6f01f"/><stop offset="100%" stop-color="#f9fa15"/></linearGradient>
<linearGradient id="g173" gradientUnits="userSpaceOnUse" x1="87.4" y1="63" x2="88.1" y2="54.9"><stop offset="0%" stop-color="#f5e327"/><stop offset="50%" stop-color="#f6ef20"/><stop offset="100%" stop-color="#f9fa15"/></linearGradient></defs>
<rect width="550" height="336" fill="#fff"/>
<g transform="translate(0 0)" filter="url(#bl)">
<path class="g" d="M26.2 98.4L108.8 130.2M26.2 98.4L26.2 29.3M44.5 94.5L127 126.2M44.5 94.5L44.5 25.4M62.7 90.5L145.3 122.3M62.7 90.5L62.7 21.4M81 86.6L163.6 118.4M81 86.6L81 17.5M99.2 82.6L181.8 114.4M99.2 82.6L99.2 13.5M117.5 78.7L200.1 110.5M117.5 78.7L117.5 9.6M135.7 74.7L218.3 106.5M135.7 74.7L135.7 5.6M26.2 98.4L135.7 74.7M135.7 74.7L135.7 5.6M46.8 106.4L156.3 82.7M156.3 82.7L156.3 13.6M67.5 114.3L177 90.6M177 90.6L177 21.5M88.1 122.2L197.6 98.6M197.6 98.6L197.6 29.5M108.8 130.2L218.3 106.5M218.3 106.5L218.3 37.4M26.2 98.4L135.7 74.7L218.3 106.5M26.2 84.6L135.7 60.9L218.3 92.7M26.2 70.8L135.7 47.1L218.3 78.9M26.2 56.9L135.7 33.2L218.3 65M26.2 43.1L135.7 19.4L218.3 51.2M26.2 29.3L135.7 5.6L218.3 37.4"/>
<g class="s"><path d="M117.5 31.2L135.7 33.2L156.3 35.5Z" fill="url(#g1)" stroke="url(#g1)"/>
<path class="e" d="M117.5 31.2L135.7 33.2M135.7 33.2L156.3 35.5"/>
<path d="M117.5 31.2L156.3 35.5L138.1 31.3Z" fill="url(#g2)" stroke="url(#g2)"/>
<path d="M99.2 35.6L117.5 31.2L138.1 31.3Z" fill="url(#g3)" stroke="url(#g3)"/>
<path class="e" d="M99.2 35.6L117.5 31.2M117.5 31.2L138.1 31.3"/>
<path d="M99.2 35.6L138.1 31.3L119.8 43.6Z" fill="url(#g4)" stroke="url(#g4)"/>
<path d="M81 21.7L99.2 35.6L119.8 43.6Z" fill="url(#g5)" stroke="url(#g5)"/>
<path class="e" d="M81 21.7L99.2 35.6M99.2 35.6L119.8 43.6"/>
<path d="M81 21.7L119.8 43.6L101.6 27.9Z" fill="url(#g6)" stroke="url(#g6)"/>
<path d="M62.7 25.7L81 21.7L101.6 27.9Z" fill="url(#g7)" stroke="url(#g7)"/>
<path class="e" d="M62.7 25.7L81 21.7M81 21.7L101.6 27.9"/>
<path d="M62.7 25.7L101.6 27.9L83.3 32.1Z" fill="url(#g8)" stroke="url(#g8)"/>
<path d="M44.5 31L62.7 25.7L83.3 32.1Z" fill="url(#g9)" stroke="url(#g9)"/>
<path class="e" d="M44.5 31L62.7 25.7M62.7 25.7L83.3 32.1"/>
<path d="M44.5 31L83.3 32.1L65.1 36.1Z" fill="url(#g10)" stroke="url(#g10)"/>
<path d="M26.2 33.2L44.5 31L65.1 36.1Z" fill="url(#g11)" stroke="url(#g11)"/>
<path class="e" d="M26.2 33.2L44.5 31M44.5 31L65.1 36.1"/>
<path d="M26.2 33.2L65.1 36.1L46.8 40.6Z" fill="url(#g12)" stroke="url(#g12)"/>
<path class="e" d="M46.8 40.6L26.2 33.2"/>
<path d="M138.1 31.3L156.3 35.5L177 44Z" fill="url(#g13)" stroke="url(#g13)"/>
<path class="e" d="M138.1 31.3L156.3 35.5M156.3 35.5L177 44"/>
<path d="M138.1 31.3L177 44L158.8 47.6Z" fill="url(#g14)" stroke="url(#g14)"/>
<path d="M119.8 43.6L138.1 31.3L158.8 47.6Z" fill="url(#g15)" stroke="url(#g15)"/>
<path class="e" d="M119.8 43.6L138.1 31.3M138.1 31.3L158.8 47.6"/>
<path d="M119.8 43.6L158.8 47.6L140.5 51.5Z" fill="#249ee6" stroke="#249ee6"/>
<path d="M101.6 27.9L119.8 43.6L140.5 51.5Z" fill="url(#g16)" stroke="url(#g16)"/>
<path class="e" d="M101.6 27.9L119.8 43.6M119.8 43.6L140.5 51.5"/>
<path d="M101.6 27.9L140.5 51.5L122.2 35.8Z" fill="url(#g17)" stroke="url(#g17)"/>
<path d="M83.3 32.1L101.6 27.9L122.2 35.8Z" fill="#f5e227" stroke="#f5e227"/>
<path class="e" d="M83.3 32.1L101.6 27.9M101.6 27.9L122.2 35.8"/>
<path d="M83.3 32.1L122.2 35.8L104 39.7Z" fill="#f5e227" stroke="#f5e227"/>
<path d="M65.1 36.1L83.3 32.1L104 39.7Z" fill="#f5e227" stroke="#f5e227"/>
<path class="e" d="M65.1 36.1L83.3 32.1M83.3 32.1L104 39.7"/>
<path d="M65.1 36.1L104 39.7L85.8 44Z" fill="#f5e227" stroke="#f5e227"/>
<path d="M46.8 40.6L65.1 36.1L85.8 44Z" fill="#f5e227" stroke="#f5e227"/>
<path class="e" d="M46.8 40.6L65.1 36.1M65.1 36.1L85.8 44"/>
<path d="M46.8 40.6L85.8 44L67.5 48Z" fill="#f5e227" stroke="#f5e227"/>
<path class="e" d="M67.5 48L46.8 40.6"/>
<path d="M158.8 47.6L177 44L197.6 51.1Z" fill="url(#g18)" stroke="url(#g18)"/>
<path class="e" d="M158.8 47.6L177 44M177 44L197.6 51.1"/>
<path d="M158.8 47.6L197.6 51.1L179.4 48.6Z" fill="url(#g19)" stroke="url(#g19)"/>
<path d="M140.5 51.5L158.8 47.6L179.4 48.6Z" fill="url(#g20)" stroke="url(#g20)"/>
<path class="e" d="M140.5 51.5L158.8 47.6M158.8 47.6L179.4 48.6"/>
<path d="M140.5 51.5L179.4 48.6L161.2 51.2Z" fill="url(#g21)" stroke="url(#g21)"/>
<path d="M122.2 35.8L140.5 51.5L161.2 51.2Z" fill="url(#g22)" stroke="url(#g22)"/>
<path class="e" d="M122.2 35.8L140.5 51.5M140.5 51.5L161.2 51.2"/>
<path d="M122.2 35.8L161.2 51.2L142.9 43.2Z" fill="url(#g23)" stroke="url(#g23)"/>
<path d="M104 39.7L122.2 35.8L142.9 43.2Z" fill="#f5e227" stroke="#f5e227"/>
<path class="e" d="M104 39.7L122.2 35.8M122.2 35.8L142.9 43.2"/>
<path d="M104 39.7L142.9 43.2L124.7 47.3Z" fill="#f5e227" stroke="#f5e227"/>
<path d="M85.8 44L104 39.7L124.7 47.3Z" fill="#f5e227" stroke="#f5e227"/>
<path class="e" d="M85.8 44L104 39.7M104 39.7L124.7 47.3"/>
<path d="M85.8 44L124.7 47.3L106.4 51.6Z" fill="#f5e227" stroke="#f5e227"/>
<path d="M67.5 48L85.8 44L106.4 51.6Z" fill="#f5e227" stroke="#f5e227"/>
<path class="e" d="M67.5 48L85.8 44M85.8 44L106.4 51.6"/>
<path d="M67.5 48L106.4 51.6L88.1 55.5Z" fill="#f5e227" stroke="#f5e227"/>
<path class="e" d="M88.1 55.5L67.5 48"/>
<path d="M179.4 48.6L197.6 51.1L218.3 52.9Z" fill="url(#g24)" stroke="url(#g24)"/>
<path class="e" d="M179.4 48.6L197.6 51.1M197.6 51.1L218.3 52.9"/>
<path d="M179.4 48.6L218.3 52.9L200.1 57.4Z" fill="url(#g25)" stroke="url(#g25)"/>
<path class="e" d="M218.3 52.9L200.1 57.4"/>
<path d="M161.2 51.2L179.4 48.6L200.1 57.4Z" fill="url(#g26)" stroke="url(#g26)"/>
<path class="e" d="M161.2 51.2L179.4 48.6M179.4 48.6L200.1 57.4"/>
<path d="M161.2 51.2L200.1 57.4L181.8 64.8Z" fill="url(#g27)" stroke="url(#g27)"/>
<path class="e" d="M200.1 57.4L181.8 64.8"/>
<path d="M142.9 43.2L161.2 51.2L181.8 64.8Z" fill="url(#g28)" stroke="url(#g28)"/>
<path class="e" d="M142.9 43.2L161.2 51.2M161.2 51.2L181.8 64.8"/>
<path d="M142.9 43.2L181.8 64.8L163.6 51Z" fill="url(#g29)" stroke="url(#g29)"/>
<path class="e" d="M181.8 64.8L163.6 51"/>
<path d="M124.7 47.3L142.9 43.2L163.6 51Z" fill="#f5e227" stroke="#f5e227"/>
<path class="e" d="M124.7 47.3L142.9 43.2M142.9 43.2L163.6 51"/>
<path d="M124.7 47.3L163.6 51L145.3 55.3Z" fill="#f5e227" stroke="#f5e227"/>
<path class="e" d="M163.6 51L145.3 55.3"/>
<path d="M106.4 51.6L124.7 47.3L145.3 55.3Z" fill="#f5e227" stroke="#f5e227"/>
<path class="e" d="M106.4 51.6L124.7 47.3M124.7 47.3L145.3 55.3"/>
<path d="M106.4 51.6L145.3 55.3L127 59.2Z" fill="#f5e227" stroke="#f5e227"/>
<path class="e" d="M145.3 55.3L127 59.2"/>
<path d="M88.1 55.5L106.4 51.6L127 59.2Z" fill="#f5e227" stroke="#f5e227"/>
<path class="e" d="M88.1 55.5L106.4 51.6M106.4 51.6L127 59.2"/>
<path d="M88.1 55.5L127 59.2L108.8 62.9Z" fill="#f5e227" stroke="#f5e227"/>
<path class="e" d="M127 59.2L108.8 62.9M108.8 62.9L88.1 55.5"/></g>
<path class="a" d="M26.2 29.3L26.2 98.4L108.8 130.2L218.3 106.5M26.2 98.4l-1.6 -0.6M26.2 84.6l-1.6 -0.6M26.2 70.8l-1.6 -0.6M26.2 56.9l-1.6 -0.6M26.2 43.1l-1.6 -0.6M26.2 29.3l-1.6 -0.6M26.2 98.4l-1.5 0.35M46.8 106.4l-1.5 0.35M67.5 114.3l-1.5 0.35M88.1 122.2l-1.5 0.35M108.8 130.2l-1.5 0.35M108.8 130.2l1.4 0.55M127 126.2l1.4 0.55M145.3 122.3l1.4 0.55M163.6 118.4l1.4 0.55M181.8 114.4l1.4 0.55M200.1 110.5l1.4 0.55M218.3 106.5l1.4 0.55"/>
<text class="t" transform="translate(21.6 99.4) scale(1.1 1)" text-anchor="end">0</text>
<text class="t" transform="translate(21.6 85.6) scale(1.1 1)" text-anchor="end">20</text>
<text class="t" transform="translate(21.6 71.8) scale(1.1 1)" text-anchor="end">40</text>
<text class="t" transform="translate(21.6 57.9) scale(1.1 1)" text-anchor="end">60</text>
<text class="t" transform="translate(21.6 44.1) scale(1.1 1)" text-anchor="end">80</text>
<text class="t" transform="translate(21.6 30.3) scale(1.1 1)" text-anchor="end">100</text>
<text class="t" transform="translate(21.3 103.6) scale(1.1 1)" text-anchor="end">10</text>
<text class="t" transform="translate(41.9 111.6) scale(1.1 1)" text-anchor="end">8</text>
<text class="t" transform="translate(62.6 119.5) scale(1.1 1)" text-anchor="end">6</text>
<text class="t" transform="translate(83.2 127.5) scale(1.1 1)" text-anchor="end">4</text>
<text class="t" transform="translate(103.9 135.4) scale(1.1 1)" text-anchor="end">2</text>
<text class="t" transform="translate(117.8 135.8) scale(1.1 1)" text-anchor="middle">200</text>
<text class="t" transform="translate(136.1 131.8) scale(1.1 1)" text-anchor="middle">400</text>
<text class="t" transform="translate(154.3 127.9) scale(1.1 1)" text-anchor="middle">600</text>
<text class="t" transform="translate(172.6 124) scale(1.1 1)" text-anchor="middle">800</text>
<text class="t" transform="translate(190.8 120) scale(1.1 1)" text-anchor="middle">1000</text>
<text class="t" transform="translate(209.1 116) scale(1.1 1)" text-anchor="middle">1200</text>
<text class="t" transform="translate(227.3 112.1) scale(1.1 1)" text-anchor="middle">1400</text>
<text class="zl" transform="translate(9.3 64.8) scale(1.1 1) rotate(-90)" text-anchor="middle">PDR [%]</text>
<text class="xl" transform="translate(54.6 122.6) scale(1.1 1) rotate(21.8)" text-anchor="middle"><tspan x="0" y="2.6">Message generation</tspan><tspan x="-1" y="8">frequency [HZ]</tspan></text>
<text class="pl" transform="translate(178.2 128.9) scale(1.1 1) rotate(-12.6)" text-anchor="middle" y="2">Perimeter [m]</text>
<rect x="232.2" y="6.5" width="7.8" height="123.6" fill="url(#cb)"/>
<rect x="232.2" y="6.5" width="7.8" height="123.6" fill="none" stroke="#777" stroke-opacity=".45" stroke-width="0.3"/>
<text class="ct" transform="translate(242.4 131.8) scale(1.1 1)">50</text>
<text class="ct" transform="translate(242.4 119.4) scale(1.1 1)">55</text>
<text class="ct" transform="translate(242.4 107) scale(1.1 1)">60</text>
<text class="ct" transform="translate(242.4 94.6) scale(1.1 1)">65</text>
<text class="ct" transform="translate(242.4 82.2) scale(1.1 1)">70</text>
<text class="ct" transform="translate(242.4 69.8) scale(1.1 1)">75</text>
<text class="ct" transform="translate(242.4 57.4) scale(1.1 1)">80</text>
<text class="ct" transform="translate(242.4 45) scale(1.1 1)">85</text>
<text class="ct" transform="translate(242.4 32.6) scale(1.1 1)">90</text>
<text class="ct" transform="translate(242.4 20.2) scale(1.1 1)">95</text>
<text class="ct" transform="translate(242.4 7.8) scale(1.1 1)">100</text>
</g>
<text class="cap" filter="url(#bc)" x="134" y="161.8" text-anchor="middle" style="letter-spacing:.76px"><tspan font-weight="bold">(a)</tspan> 5G-Infrastructural - 4 BSs</text>
<g transform="translate(294 0)" filter="url(#bl)">
<path class="g" d="M26.2 98.4L108.8 130.2M26.2 98.4L26.2 29.3M44.5 94.5L127 126.2M44.5 94.5L44.5 25.4M62.7 90.5L145.3 122.3M62.7 90.5L62.7 21.4M81 86.6L163.6 118.4M81 86.6L81 17.5M99.2 82.6L181.8 114.4M99.2 82.6L99.2 13.5M117.5 78.7L200.1 110.5M117.5 78.7L117.5 9.6M135.7 74.7L218.3 106.5M135.7 74.7L135.7 5.6M26.2 98.4L135.7 74.7M135.7 74.7L135.7 5.6M46.8 106.4L156.3 82.7M156.3 82.7L156.3 13.6M67.5 114.3L177 90.6M177 90.6L177 21.5M88.1 122.2L197.6 98.6M197.6 98.6L197.6 29.5M108.8 130.2L218.3 106.5M218.3 106.5L218.3 37.4M26.2 98.4L135.7 74.7L218.3 106.5M26.2 84.6L135.7 60.9L218.3 92.7M26.2 70.8L135.7 47.1L218.3 78.9M26.2 56.9L135.7 33.2L218.3 65M26.2 43.1L135.7 19.4L218.3 51.2M26.2 29.3L135.7 5.6L218.3 37.4"/>
<g class="s"><path d="M117.5 26.1L135.7 24.7L156.3 24.1Z" fill="url(#g30)" stroke="url(#g30)"/>
<path class="e" d="M117.5 26.1L135.7 24.7M135.7 24.7L156.3 24.1"/>
<path d="M117.5 26.1L156.3 24.1L138.1 29.2Z" fill="url(#g31)" stroke="url(#g31)"/>
<path d="M99.2 22.5L117.5 26.1L138.1 29.2Z" fill="url(#g32)" stroke="url(#g32)"/>
<path class="e" d="M99.2 22.5L117.5 26.1M117.5 26.1L138.1 29.2"/>
<path d="M99.2 22.5L138.1 29.2L119.8 33.5Z" fill="url(#g33)" stroke="url(#g33)"/>
<path d="M81 27.1L99.2 22.5L119.8 33.5Z" fill="url(#g34)" stroke="url(#g34)"/>
<path class="e" d="M81 27.1L99.2 22.5M99.2 22.5L119.8 33.5"/>
<path d="M81 27.1L119.8 33.5L101.6 35.8Z" fill="url(#g35)" stroke="url(#g35)"/>
<path d="M62.7 38.2L81 27.1L101.6 35.8Z" fill="url(#g36)" stroke="url(#g36)"/>
<path class="e" d="M62.7 38.2L81 27.1M81 27.1L101.6 35.8"/>
<path d="M62.7 38.2L101.6 35.8L83.3 42.8Z" fill="url(#g37)" stroke="url(#g37)"/>
<path d="M44.5 36.8L62.7 38.2L83.3 42.8Z" fill="url(#g38)" stroke="url(#g38)"/>
<path class="e" d="M44.5 36.8L62.7 38.2M62.7 38.2L83.3 42.8"/>
<path d="M44.5 36.8L83.3 42.8L65.1 38.3Z" fill="url(#g39)" stroke="url(#g39)"/>
<path d="M26.2 35.6L44.5 36.8L65.1 38.3Z" fill="url(#g40)" stroke="url(#g40)"/>
<path class="e" d="M26.2 35.6L44.5 36.8M44.5 36.8L65.1 38.3"/>
<path d="M26.2 35.6L65.1 38.3L46.8 42.4Z" fill="url(#g41)" stroke="url(#g41)"/>
<path class="e" d="M46.8 42.4L26.2 35.6"/>
<path d="M138.1 29.2L156.3 24.1L177 37.2Z" fill="url(#g42)" stroke="url(#g42)"/>
<path class="e" d="M138.1 29.2L156.3 24.1M156.3 24.1L177 37.2"/>
<path d="M138.1 29.2L177 37.2L158.8 40.9Z" fill="url(#g43)" stroke="url(#g43)"/>
<path d="M119.8 33.5L138.1 29.2L158.8 40.9Z" fill="url(#g44)" stroke="url(#g44)"/>
<path class="e" d="M119.8 33.5L138.1 29.2M138.1 29.2L158.8 40.9"/>
<path d="M119.8 33.5L158.8 40.9L140.5 37.7Z" fill="url(#g45)" stroke="url(#g45)"/>
<path d="M101.6 35.8L119.8 33.5L140.5 37.7Z" fill="url(#g46)" stroke="url(#g46)"/>
<path class="e" d="M101.6 35.8L119.8 33.5M119.8 33.5L140.5 37.7"/>
<path d="M101.6 35.8L140.5 37.7L122.2 38.5Z" fill="url(#g47)" stroke="url(#g47)"/>
<path d="M83.3 42.8L101.6 35.8L122.2 38.5Z" fill="url(#g48)" stroke="url(#g48)"/>
<path class="e" d="M83.3 42.8L101.6 35.8M101.6 35.8L122.2 38.5"/>
<path d="M83.3 42.8L122.2 38.5L104 41.1Z" fill="url(#g49)" stroke="url(#g49)"/>
<path d="M65.1 38.3L83.3 42.8L104 41.1Z" fill="url(#g50)" stroke="url(#g50)"/>
<path class="e" d="M65.1 38.3L83.3 42.8M83.3 42.8L104 41.1"/>
<path d="M65.1 38.3L104 41.1L85.8 47.3Z" fill="url(#g51)" stroke="url(#g51)"/>
<path d="M46.8 42.4L65.1 38.3L85.8 47.3Z" fill="url(#g52)" stroke="url(#g52)"/>
<path class="e" d="M46.8 42.4L65.1 38.3M65.1 38.3L85.8 47.3"/>
<path d="M46.8 42.4L85.8 47.3L67.5 49.3Z" fill="url(#g53)" stroke="url(#g53)"/>
<path class="e" d="M67.5 49.3L46.8 42.4"/>
<path d="M158.8 40.9L177 37.2L197.6 35.9Z" fill="url(#g54)" stroke="url(#g54)"/>
<path class="e" d="M158.8 40.9L177 37.2M177 37.2L197.6 35.9"/>
<path d="M158.8 40.9L197.6 35.9L179.4 39.6Z" fill="url(#g55)" stroke="url(#g55)"/>
<path d="M140.5 37.7L158.8 40.9L179.4 39.6Z" fill="url(#g56)" stroke="url(#g56)"/>
<path class="e" d="M140.5 37.7L158.8 40.9M158.8 40.9L179.4 39.6"/>
<path d="M140.5 37.7L179.4 39.6L161.2 43.6Z" fill="url(#g57)" stroke="url(#g57)"/>
<path d="M122.2 38.5L140.5 37.7L161.2 43.6Z" fill="url(#g58)" stroke="url(#g58)"/>
<path class="e" d="M122.2 38.5L140.5 37.7M140.5 37.7L161.2 43.6"/>
<path d="M122.2 38.5L161.2 43.6L142.9 46.2Z" fill="url(#g59)" stroke="url(#g59)"/>
<path d="M104 41.1L122.2 38.5L142.9 46.2Z" fill="url(#g60)" stroke="url(#g60)"/>
<path class="e" d="M104 41.1L122.2 38.5M122.2 38.5L142.9 46.2"/>
<path d="M104 41.1L142.9 46.2L124.7 48.2Z" fill="url(#g61)" stroke="url(#g61)"/>
<path d="M85.8 47.3L104 41.1L124.7 48.2Z" fill="url(#g62)" stroke="url(#g62)"/>
<path class="e" d="M85.8 47.3L104 41.1M104 41.1L124.7 48.2"/>
<path d="M85.8 47.3L124.7 48.2L106.4 52.9Z" fill="url(#g63)" stroke="url(#g63)"/>
<path d="M67.5 49.3L85.8 47.3L106.4 52.9Z" fill="url(#g64)" stroke="url(#g64)"/>
<path class="e" d="M67.5 49.3L85.8 47.3M85.8 47.3L106.4 52.9"/>
<path d="M67.5 49.3L106.4 52.9L88.1 55.6Z" fill="url(#g65)" stroke="url(#g65)"/>
<path class="e" d="M88.1 55.6L67.5 49.3"/>
<path d="M179.4 39.6L197.6 35.9L218.3 44.8Z" fill="url(#g66)" stroke="url(#g66)"/>
<path class="e" d="M179.4 39.6L197.6 35.9M197.6 35.9L218.3 44.8"/>
<path d="M179.4 39.6L218.3 44.8L200.1 46.9Z" fill="url(#g67)" stroke="url(#g67)"/>
<path class="e" d="M218.3 44.8L200.1 46.9"/>
<path d="M161.2 43.6L179.4 39.6L200.1 46.9Z" fill="url(#g68)" stroke="url(#g68)"/>
<path class="e" d="M161.2 43.6L179.4 39.6M179.4 39.6L200.1 46.9"/>
<path d="M161.2 43.6L200.1 46.9L181.8 50Z" fill="url(#g69)" stroke="url(#g69)"/>
<path class="e" d="M200.1 46.9L181.8 50"/>
<path d="M142.9 46.2L161.2 43.6L181.8 50Z" fill="url(#g70)" stroke="url(#g70)"/>
<path class="e" d="M142.9 46.2L161.2 43.6M161.2 43.6L181.8 50"/>
<path d="M142.9 46.2L181.8 50L163.6 54.4Z" fill="url(#g71)" stroke="url(#g71)"/>
<path class="e" d="M181.8 50L163.6 54.4"/>
<path d="M124.7 48.2L142.9 46.2L163.6 54.4Z" fill="url(#g72)" stroke="url(#g72)"/>
<path class="e" d="M124.7 48.2L142.9 46.2M142.9 46.2L163.6 54.4"/>
<path d="M124.7 48.2L163.6 54.4L145.3 54.3Z" fill="url(#g73)" stroke="url(#g73)"/>
<path class="e" d="M163.6 54.4L145.3 54.3"/>
<path d="M106.4 52.9L124.7 48.2L145.3 54.3Z" fill="url(#g74)" stroke="url(#g74)"/>
<path class="e" d="M106.4 52.9L124.7 48.2M124.7 48.2L145.3 54.3"/>
<path d="M106.4 52.9L145.3 54.3L127 62.3Z" fill="url(#g75)" stroke="url(#g75)"/>
<path class="e" d="M145.3 54.3L127 62.3"/>
<path d="M88.1 55.6L106.4 52.9L127 62.3Z" fill="url(#g76)" stroke="url(#g76)"/>
<path class="e" d="M88.1 55.6L106.4 52.9M106.4 52.9L127 62.3"/>
<path d="M88.1 55.6L127 62.3L108.8 63.1Z" fill="url(#g77)" stroke="url(#g77)"/>
<path class="e" d="M127 62.3L108.8 63.1M108.8 63.1L88.1 55.6"/></g>
<path class="a" d="M26.2 29.3L26.2 98.4L108.8 130.2L218.3 106.5M26.2 98.4l-1.6 -0.6M26.2 84.6l-1.6 -0.6M26.2 70.8l-1.6 -0.6M26.2 56.9l-1.6 -0.6M26.2 43.1l-1.6 -0.6M26.2 29.3l-1.6 -0.6M26.2 98.4l-1.5 0.35M46.8 106.4l-1.5 0.35M67.5 114.3l-1.5 0.35M88.1 122.2l-1.5 0.35M108.8 130.2l-1.5 0.35M108.8 130.2l1.4 0.55M127 126.2l1.4 0.55M145.3 122.3l1.4 0.55M163.6 118.4l1.4 0.55M181.8 114.4l1.4 0.55M200.1 110.5l1.4 0.55M218.3 106.5l1.4 0.55"/>
<text class="t" transform="translate(21.6 99.4) scale(1.1 1)" text-anchor="end">0</text>
<text class="t" transform="translate(21.6 85.6) scale(1.1 1)" text-anchor="end">20</text>
<text class="t" transform="translate(21.6 71.8) scale(1.1 1)" text-anchor="end">40</text>
<text class="t" transform="translate(21.6 57.9) scale(1.1 1)" text-anchor="end">60</text>
<text class="t" transform="translate(21.6 44.1) scale(1.1 1)" text-anchor="end">80</text>
<text class="t" transform="translate(21.6 30.3) scale(1.1 1)" text-anchor="end">100</text>
<text class="t" transform="translate(21.3 103.6) scale(1.1 1)" text-anchor="end">10</text>
<text class="t" transform="translate(41.9 111.6) scale(1.1 1)" text-anchor="end">8</text>
<text class="t" transform="translate(62.6 119.5) scale(1.1 1)" text-anchor="end">6</text>
<text class="t" transform="translate(83.2 127.5) scale(1.1 1)" text-anchor="end">4</text>
<text class="t" transform="translate(103.9 135.4) scale(1.1 1)" text-anchor="end">2</text>
<text class="t" transform="translate(117.8 135.8) scale(1.1 1)" text-anchor="middle">200</text>
<text class="t" transform="translate(136.1 131.8) scale(1.1 1)" text-anchor="middle">400</text>
<text class="t" transform="translate(154.3 127.9) scale(1.1 1)" text-anchor="middle">600</text>
<text class="t" transform="translate(172.6 124) scale(1.1 1)" text-anchor="middle">800</text>
<text class="t" transform="translate(190.8 120) scale(1.1 1)" text-anchor="middle">1000</text>
<text class="t" transform="translate(209.1 116) scale(1.1 1)" text-anchor="middle">1200</text>
<text class="t" transform="translate(227.3 112.1) scale(1.1 1)" text-anchor="middle">1400</text>
<text class="zl" transform="translate(9.3 64.8) scale(1.1 1) rotate(-90)" text-anchor="middle">PDR [%]</text>
<text class="xl" transform="translate(54.6 122.6) scale(1.1 1) rotate(21.8)" text-anchor="middle"><tspan x="0" y="2.6">Message generation</tspan><tspan x="-1" y="8">frequency [HZ]</tspan></text>
<text class="pl" transform="translate(178.2 128.9) scale(1.1 1) rotate(-12.6)" text-anchor="middle" y="2">Perimeter [m]</text>
<rect x="232.2" y="6.5" width="7.8" height="123.6" fill="url(#cb)"/>
<rect x="232.2" y="6.5" width="7.8" height="123.6" fill="none" stroke="#777" stroke-opacity=".45" stroke-width="0.3"/>
<text class="ct" transform="translate(242.4 131.8) scale(1.1 1)">50</text>
<text class="ct" transform="translate(242.4 119.4) scale(1.1 1)">55</text>
<text class="ct" transform="translate(242.4 107) scale(1.1 1)">60</text>
<text class="ct" transform="translate(242.4 94.6) scale(1.1 1)">65</text>
<text class="ct" transform="translate(242.4 82.2) scale(1.1 1)">70</text>
<text class="ct" transform="translate(242.4 69.8) scale(1.1 1)">75</text>
<text class="ct" transform="translate(242.4 57.4) scale(1.1 1)">80</text>
<text class="ct" transform="translate(242.4 45) scale(1.1 1)">85</text>
<text class="ct" transform="translate(242.4 32.6) scale(1.1 1)">90</text>
<text class="ct" transform="translate(242.4 20.2) scale(1.1 1)">95</text>
<text class="ct" transform="translate(242.4 7.8) scale(1.1 1)">100</text>
</g>
<text class="cap" filter="url(#bc)" x="427.5" y="161.8" text-anchor="middle" style="letter-spacing:.76px"><tspan font-weight="bold">(b)</tspan> 5G-Infrastructural - 8 BSs</text>
<g transform="translate(0 170)" filter="url(#bl)">
<path class="g" d="M26.2 98.4L108.8 130.2M26.2 98.4L26.2 29.3M44.5 94.5L127 126.2M44.5 94.5L44.5 25.4M62.7 90.5L145.3 122.3M62.7 90.5L62.7 21.4M81 86.6L163.6 118.4M81 86.6L81 17.5M99.2 82.6L181.8 114.4M99.2 82.6L99.2 13.5M117.5 78.7L200.1 110.5M117.5 78.7L117.5 9.6M135.7 74.7L218.3 106.5M135.7 74.7L135.7 5.6M26.2 98.4L135.7 74.7M135.7 74.7L135.7 5.6M46.8 106.4L156.3 82.7M156.3 82.7L156.3 13.6M67.5 114.3L177 90.6M177 90.6L177 21.5M88.1 122.2L197.6 98.6M197.6 98.6L197.6 29.5M108.8 130.2L218.3 106.5M218.3 106.5L218.3 37.4M26.2 98.4L135.7 74.7L218.3 106.5M26.2 84.6L135.7 60.9L218.3 92.7M26.2 70.8L135.7 47.1L218.3 78.9M26.2 56.9L135.7 33.2L218.3 65M26.2 43.1L135.7 19.4L218.3 51.2M26.2 29.3L135.7 5.6L218.3 37.4"/>
<g class="s"><path d="M117.5 35.8L135.7 28.4L156.3 26.3Z" fill="url(#g78)" stroke="url(#g78)"/>
<path class="e" d="M117.5 35.8L135.7 28.4M135.7 28.4L156.3 26.3"/>
<path d="M117.5 35.8L156.3 26.3L138.1 35.9Z" fill="url(#g79)" stroke="url(#g79)"/>
<path d="M99.2 27.1L117.5 35.8L138.1 35.9Z" fill="url(#g80)" stroke="url(#g80)"/>
<path class="e" d="M99.2 27.1L117.5 35.8M117.5 35.8L138.1 35.9"/>
<path d="M99.2 27.1L138.1 35.9L119.8 33.1Z" fill="url(#g81)" stroke="url(#g81)"/>
<path d="M81 36.7L99.2 27.1L119.8 33.1Z" fill="url(#g82)" stroke="url(#g82)"/>
<path class="e" d="M81 36.7L99.2 27.1M99.2 27.1L119.8 33.1"/>
<path d="M81 36.7L119.8 33.1L101.6 38.4Z" fill="url(#g83)" stroke="url(#g83)"/>
<path d="M62.7 38.8L81 36.7L101.6 38.4Z" fill="url(#g84)" stroke="url(#g84)"/>
<path class="e" d="M62.7 38.8L81 36.7M81 36.7L101.6 38.4"/>
<path d="M62.7 38.8L101.6 38.4L83.3 36.5Z" fill="url(#g85)" stroke="url(#g85)"/>
<path d="M44.5 39.9L62.7 38.8L83.3 36.5Z" fill="url(#g86)" stroke="url(#g86)"/>
<path class="e" d="M44.5 39.9L62.7 38.8M62.7 38.8L83.3 36.5"/>
<path d="M44.5 39.9L83.3 36.5L65.1 43.5Z" fill="url(#g87)" stroke="url(#g87)"/>
<path d="M26.2 35L44.5 39.9L65.1 43.5Z" fill="url(#g88)" stroke="url(#g88)"/>
<path class="e" d="M26.2 35L44.5 39.9M44.5 39.9L65.1 43.5"/>
<path d="M26.2 35L65.1 43.5L46.8 39.7Z" fill="url(#g89)" stroke="url(#g89)"/>
<path class="e" d="M46.8 39.7L26.2 35"/>
<path d="M138.1 35.9L156.3 26.3L177 35.7Z" fill="url(#g90)" stroke="url(#g90)"/>
<path class="e" d="M138.1 35.9L156.3 26.3M156.3 26.3L177 35.7"/>
<path d="M138.1 35.9L177 35.7L158.8 39.7Z" fill="url(#g91)" stroke="url(#g91)"/>
<path d="M119.8 33.1L138.1 35.9L158.8 39.7Z" fill="url(#g92)" stroke="url(#g92)"/>
<path class="e" d="M119.8 33.1L138.1 35.9M138.1 35.9L158.8 39.7"/>
<path d="M119.8 33.1L158.8 39.7L140.5 40.6Z" fill="url(#g93)" stroke="url(#g93)"/>
<path d="M101.6 38.4L119.8 33.1L140.5 40.6Z" fill="url(#g94)" stroke="url(#g94)"/>
<path class="e" d="M101.6 38.4L119.8 33.1M119.8 33.1L140.5 40.6"/>
<path d="M101.6 38.4L140.5 40.6L122.2 44.1Z" fill="url(#g95)" stroke="url(#g95)"/>
<path d="M83.3 36.5L101.6 38.4L122.2 44.1Z" fill="url(#g96)" stroke="url(#g96)"/>
<path class="e" d="M83.3 36.5L101.6 38.4M101.6 38.4L122.2 44.1"/>
<path d="M83.3 36.5L122.2 44.1L104 49.6Z" fill="url(#g97)" stroke="url(#g97)"/>
<path d="M65.1 43.5L83.3 36.5L104 49.6Z" fill="url(#g98)" stroke="url(#g98)"/>
<path class="e" d="M65.1 43.5L83.3 36.5M83.3 36.5L104 49.6"/>
<path d="M65.1 43.5L104 49.6L85.8 50.2Z" fill="url(#g99)" stroke="url(#g99)"/>
<path d="M46.8 39.7L65.1 43.5L85.8 50.2Z" fill="url(#g100)" stroke="url(#g100)"/>
<path class="e" d="M46.8 39.7L65.1 43.5M65.1 43.5L85.8 50.2"/>
<path d="M46.8 39.7L85.8 50.2L67.5 47Z" fill="url(#g101)" stroke="url(#g101)"/>
<path class="e" d="M67.5 47L46.8 39.7"/>
<path d="M158.8 39.7L177 35.7L197.6 39.3Z" fill="url(#g102)" stroke="url(#g102)"/>
<path class="e" d="M158.8 39.7L177 35.7M177 35.7L197.6 39.3"/>
<path d="M158.8 39.7L197.6 39.3L179.4 44.5Z" fill="url(#g103)" stroke="url(#g103)"/>
<path d="M140.5 40.6L158.8 39.7L179.4 44.5Z" fill="url(#g104)" stroke="url(#g104)"/>
<path class="e" d="M140.5 40.6L158.8 39.7M158.8 39.7L179.4 44.5"/>
<path d="M140.5 40.6L179.4 44.5L161.2 49Z" fill="url(#g105)" stroke="url(#g105)"/>
<path d="M122.2 44.1L140.5 40.6L161.2 49Z" fill="url(#g106)" stroke="url(#g106)"/>
<path class="e" d="M122.2 44.1L140.5 40.6M140.5 40.6L161.2 49"/>
<path d="M122.2 44.1L161.2 49L142.9 49.6Z" fill="url(#g107)" stroke="url(#g107)"/>
<path d="M104 49.6L122.2 44.1L142.9 49.6Z" fill="url(#g108)" stroke="url(#g108)"/>
<path class="e" d="M104 49.6L122.2 44.1M122.2 44.1L142.9 49.6"/>
<path d="M104 49.6L142.9 49.6L124.7 52.2Z" fill="url(#g109)" stroke="url(#g109)"/>
<path d="M85.8 50.2L104 49.6L124.7 52.2Z" fill="url(#g110)" stroke="url(#g110)"/>
<path class="e" d="M85.8 50.2L104 49.6M104 49.6L124.7 52.2"/>
<path d="M85.8 50.2L124.7 52.2L106.4 54Z" fill="url(#g111)" stroke="url(#g111)"/>
<path d="M67.5 47L85.8 50.2L106.4 54Z" fill="url(#g112)" stroke="url(#g112)"/>
<path class="e" d="M67.5 47L85.8 50.2M85.8 50.2L106.4 54"/>
<path d="M67.5 47L106.4 54L88.1 54.1Z" fill="url(#g113)" stroke="url(#g113)"/>
<path class="e" d="M88.1 54.1L67.5 47"/>
<path d="M179.4 44.5L197.6 39.3L218.3 45.4Z" fill="url(#g114)" stroke="url(#g114)"/>
<path class="e" d="M179.4 44.5L197.6 39.3M197.6 39.3L218.3 45.4"/>
<path d="M179.4 44.5L218.3 45.4L200.1 51Z" fill="url(#g115)" stroke="url(#g115)"/>
<path class="e" d="M218.3 45.4L200.1 51"/>
<path d="M161.2 49L179.4 44.5L200.1 51Z" fill="url(#g116)" stroke="url(#g116)"/>
<path class="e" d="M161.2 49L179.4 44.5M179.4 44.5L200.1 51"/>
<path d="M161.2 49L200.1 51L181.8 54.2Z" fill="url(#g117)" stroke="url(#g117)"/>
<path class="e" d="M200.1 51L181.8 54.2"/>
<path d="M142.9 49.6L161.2 49L181.8 54.2Z" fill="url(#g118)" stroke="url(#g118)"/>
<path class="e" d="M142.9 49.6L161.2 49M161.2 49L181.8 54.2"/>
<path d="M142.9 49.6L181.8 54.2L163.6 57.8Z" fill="url(#g119)" stroke="url(#g119)"/>
<path class="e" d="M181.8 54.2L163.6 57.8"/>
<path d="M124.7 52.2L142.9 49.6L163.6 57.8Z" fill="url(#g120)" stroke="url(#g120)"/>
<path class="e" d="M124.7 52.2L142.9 49.6M142.9 49.6L163.6 57.8"/>
<path d="M124.7 52.2L163.6 57.8L145.3 58.5Z" fill="url(#g121)" stroke="url(#g121)"/>
<path class="e" d="M163.6 57.8L145.3 58.5"/>
<path d="M106.4 54L124.7 52.2L145.3 58.5Z" fill="url(#g122)" stroke="url(#g122)"/>
<path class="e" d="M106.4 54L124.7 52.2M124.7 52.2L145.3 58.5"/>
<path d="M106.4 54L145.3 58.5L127 59.2Z" fill="url(#g123)" stroke="url(#g123)"/>
<path class="e" d="M145.3 58.5L127 59.2"/>
<path d="M88.1 54.1L106.4 54L127 59.2Z" fill="url(#g124)" stroke="url(#g124)"/>
<path class="e" d="M88.1 54.1L106.4 54M106.4 54L127 59.2"/>
<path d="M88.1 54.1L127 59.2L108.8 62.4Z" fill="url(#g125)" stroke="url(#g125)"/>
<path class="e" d="M127 59.2L108.8 62.4M108.8 62.4L88.1 54.1"/></g>
<path class="a" d="M26.2 29.3L26.2 98.4L108.8 130.2L218.3 106.5M26.2 98.4l-1.6 -0.6M26.2 84.6l-1.6 -0.6M26.2 70.8l-1.6 -0.6M26.2 56.9l-1.6 -0.6M26.2 43.1l-1.6 -0.6M26.2 29.3l-1.6 -0.6M26.2 98.4l-1.5 0.35M46.8 106.4l-1.5 0.35M67.5 114.3l-1.5 0.35M88.1 122.2l-1.5 0.35M108.8 130.2l-1.5 0.35M108.8 130.2l1.4 0.55M127 126.2l1.4 0.55M145.3 122.3l1.4 0.55M163.6 118.4l1.4 0.55M181.8 114.4l1.4 0.55M200.1 110.5l1.4 0.55M218.3 106.5l1.4 0.55"/>
<text class="t" transform="translate(21.6 99.4) scale(1.1 1)" text-anchor="end">0</text>
<text class="t" transform="translate(21.6 85.6) scale(1.1 1)" text-anchor="end">20</text>
<text class="t" transform="translate(21.6 71.8) scale(1.1 1)" text-anchor="end">40</text>
<text class="t" transform="translate(21.6 57.9) scale(1.1 1)" text-anchor="end">60</text>
<text class="t" transform="translate(21.6 44.1) scale(1.1 1)" text-anchor="end">80</text>
<text class="t" transform="translate(21.6 30.3) scale(1.1 1)" text-anchor="end">100</text>
<text class="t" transform="translate(21.3 103.6) scale(1.1 1)" text-anchor="end">10</text>
<text class="t" transform="translate(41.9 111.6) scale(1.1 1)" text-anchor="end">8</text>
<text class="t" transform="translate(62.6 119.5) scale(1.1 1)" text-anchor="end">6</text>
<text class="t" transform="translate(83.2 127.5) scale(1.1 1)" text-anchor="end">4</text>
<text class="t" transform="translate(103.9 135.4) scale(1.1 1)" text-anchor="end">2</text>
<text class="t" transform="translate(117.8 135.8) scale(1.1 1)" text-anchor="middle">200</text>
<text class="t" transform="translate(136.1 131.8) scale(1.1 1)" text-anchor="middle">400</text>
<text class="t" transform="translate(154.3 127.9) scale(1.1 1)" text-anchor="middle">600</text>
<text class="t" transform="translate(172.6 124) scale(1.1 1)" text-anchor="middle">800</text>
<text class="t" transform="translate(190.8 120) scale(1.1 1)" text-anchor="middle">1000</text>
<text class="t" transform="translate(209.1 116) scale(1.1 1)" text-anchor="middle">1200</text>
<text class="t" transform="translate(227.3 112.1) scale(1.1 1)" text-anchor="middle">1400</text>
<text class="zl" transform="translate(9.3 64.8) scale(1.1 1) rotate(-90)" text-anchor="middle">PDR [%]</text>
<text class="xl" transform="translate(54.6 122.6) scale(1.1 1) rotate(21.8)" text-anchor="middle"><tspan x="0" y="2.6">Message generation</tspan><tspan x="-1" y="8">frequency [HZ]</tspan></text>
<text class="pl" transform="translate(178.2 128.9) scale(1.1 1) rotate(-12.6)" text-anchor="middle" y="2">Perimeter [m]</text>
<rect x="232.2" y="6.5" width="7.8" height="123.6" fill="url(#cb)"/>
<rect x="232.2" y="6.5" width="7.8" height="123.6" fill="none" stroke="#777" stroke-opacity=".45" stroke-width="0.3"/>
<text class="ct" transform="translate(242.4 131.8) scale(1.1 1)">50</text>
<text class="ct" transform="translate(242.4 119.4) scale(1.1 1)">55</text>
<text class="ct" transform="translate(242.4 107) scale(1.1 1)">60</text>
<text class="ct" transform="translate(242.4 94.6) scale(1.1 1)">65</text>
<text class="ct" transform="translate(242.4 82.2) scale(1.1 1)">70</text>
<text class="ct" transform="translate(242.4 69.8) scale(1.1 1)">75</text>
<text class="ct" transform="translate(242.4 57.4) scale(1.1 1)">80</text>
<text class="ct" transform="translate(242.4 45) scale(1.1 1)">85</text>
<text class="ct" transform="translate(242.4 32.6) scale(1.1 1)">90</text>
<text class="ct" transform="translate(242.4 20.2) scale(1.1 1)">95</text>
<text class="ct" transform="translate(242.4 7.8) scale(1.1 1)">100</text>
</g>
<text class="cap" filter="url(#bc)" x="133.1" y="330.4" text-anchor="middle"><tspan font-weight="bold">(c)</tspan> 5G-D2D - 4 BSs</text>
<g transform="translate(294 170)" filter="url(#bl)">
<path class="g" d="M26.2 98.4L108.8 130.2M26.2 98.4L26.2 29.3M44.5 94.5L127 126.2M44.5 94.5L44.5 25.4M62.7 90.5L145.3 122.3M62.7 90.5L62.7 21.4M81 86.6L163.6 118.4M81 86.6L81 17.5M99.2 82.6L181.8 114.4M99.2 82.6L99.2 13.5M117.5 78.7L200.1 110.5M117.5 78.7L117.5 9.6M135.7 74.7L218.3 106.5M135.7 74.7L135.7 5.6M26.2 98.4L135.7 74.7M135.7 74.7L135.7 5.6M46.8 106.4L156.3 82.7M156.3 82.7L156.3 13.6M67.5 114.3L177 90.6M177 90.6L177 21.5M88.1 122.2L197.6 98.6M197.6 98.6L197.6 29.5M108.8 130.2L218.3 106.5M218.3 106.5L218.3 37.4M26.2 98.4L135.7 74.7L218.3 106.5M26.2 84.6L135.7 60.9L218.3 92.7M26.2 70.8L135.7 47.1L218.3 78.9M26.2 56.9L135.7 33.2L218.3 65M26.2 43.1L135.7 19.4L218.3 51.2M26.2 29.3L135.7 5.6L218.3 37.4"/>
<g class="s"><path d="M117.5 20.3L135.7 18.1L156.3 27Z" fill="url(#g126)" stroke="url(#g126)"/>
<path class="e" d="M117.5 20.3L135.7 18.1M135.7 18.1L156.3 27"/>
<path d="M117.5 20.3L156.3 27L138.1 34.4Z" fill="url(#g127)" stroke="url(#g127)"/>
<path d="M99.2 36L117.5 20.3L138.1 34.4Z" fill="url(#g128)" stroke="url(#g128)"/>
<path class="e" d="M99.2 36L117.5 20.3M117.5 20.3L138.1 34.4"/>
<path d="M99.2 36L138.1 34.4L119.8 29.3Z" fill="url(#g129)" stroke="url(#g129)"/>
<path d="M81 27.7L99.2 36L119.8 29.3Z" fill="url(#g130)" stroke="url(#g130)"/>
<path class="e" d="M81 27.7L99.2 36M99.2 36L119.8 29.3"/>
<path d="M81 27.7L119.8 29.3L101.6 34.2Z" fill="url(#g131)" stroke="url(#g131)"/>
<path d="M62.7 35.2L81 27.7L101.6 34.2Z" fill="url(#g132)" stroke="url(#g132)"/>
<path class="e" d="M62.7 35.2L81 27.7M81 27.7L101.6 34.2"/>
<path d="M62.7 35.2L101.6 34.2L83.3 49.9Z" fill="url(#g133)" stroke="url(#g133)"/>
<path d="M44.5 40.5L62.7 35.2L83.3 49.9Z" fill="url(#g134)" stroke="url(#g134)"/>
<path class="e" d="M44.5 40.5L62.7 35.2M62.7 35.2L83.3 49.9"/>
<path d="M44.5 40.5L83.3 49.9L65.1 56.5Z" fill="url(#g135)" stroke="url(#g135)"/>
<path d="M26.2 35L44.5 40.5L65.1 56.5Z" fill="url(#g136)" stroke="url(#g136)"/>
<path class="e" d="M26.2 35L44.5 40.5M44.5 40.5L65.1 56.5"/>
<path d="M26.2 35L65.1 56.5L46.8 69.9Z" fill="url(#g137)" stroke="url(#g137)"/>
<path class="e" d="M46.8 69.9L26.2 35"/>
<path d="M138.1 34.4L156.3 27L177 29.9Z" fill="url(#g138)" stroke="url(#g138)"/>
<path class="e" d="M138.1 34.4L156.3 27M156.3 27L177 29.9"/>
<path d="M138.1 34.4L177 29.9L158.8 41.3Z" fill="url(#g139)" stroke="url(#g139)"/>
<path d="M119.8 29.3L138.1 34.4L158.8 41.3Z" fill="url(#g140)" stroke="url(#g140)"/>
<path class="e" d="M119.8 29.3L138.1 34.4M138.1 34.4L158.8 41.3"/>
<path d="M119.8 29.3L158.8 41.3L140.5 38.3Z" fill="url(#g141)" stroke="url(#g141)"/>
<path d="M101.6 34.2L119.8 29.3L140.5 38.3Z" fill="url(#g142)" stroke="url(#g142)"/>
<path class="e" d="M101.6 34.2L119.8 29.3M119.8 29.3L140.5 38.3"/>
<path d="M101.6 34.2L140.5 38.3L122.2 41.2Z" fill="url(#g143)" stroke="url(#g143)"/>
<path d="M83.3 49.9L101.6 34.2L122.2 41.2Z" fill="url(#g144)" stroke="url(#g144)"/>
<path class="e" d="M83.3 49.9L101.6 34.2M101.6 34.2L122.2 41.2"/>
<path d="M83.3 49.9L122.2 41.2L104 40.2Z" fill="url(#g145)" stroke="url(#g145)"/>
<path d="M65.1 56.5L83.3 49.9L104 40.2Z" fill="url(#g146)" stroke="url(#g146)"/>
<path class="e" d="M65.1 56.5L83.3 49.9M83.3 49.9L104 40.2"/>
<path d="M65.1 56.5L104 40.2L85.8 55.4Z" fill="url(#g147)" stroke="url(#g147)"/>
<path d="M46.8 69.9L65.1 56.5L85.8 55.4Z" fill="url(#g148)" stroke="url(#g148)"/>
<path class="e" d="M46.8 69.9L65.1 56.5M65.1 56.5L85.8 55.4"/>
<path d="M46.8 69.9L85.8 55.4L67.5 57.5Z" fill="url(#g149)" stroke="url(#g149)"/>
<path class="e" d="M67.5 57.5L46.8 69.9"/>
<path d="M158.8 41.3L177 29.9L197.6 49.5Z" fill="url(#g150)" stroke="url(#g150)"/>
<path class="e" d="M158.8 41.3L177 29.9M177 29.9L197.6 49.5"/>
<path d="M158.8 41.3L197.6 49.5L179.4 42.8Z" fill="url(#g151)" stroke="url(#g151)"/>
<path d="M140.5 38.3L158.8 41.3L179.4 42.8Z" fill="url(#g152)" stroke="url(#g152)"/>
<path class="e" d="M140.5 38.3L158.8 41.3M158.8 41.3L179.4 42.8"/>
<path d="M140.5 38.3L179.4 42.8L161.2 43.8Z" fill="url(#g153)" stroke="url(#g153)"/>
<path d="M122.2 41.2L140.5 38.3L161.2 43.8Z" fill="url(#g154)" stroke="url(#g154)"/>
<path class="e" d="M122.2 41.2L140.5 38.3M140.5 38.3L161.2 43.8"/>
<path d="M122.2 41.2L161.2 43.8L142.9 48.2Z" fill="url(#g155)" stroke="url(#g155)"/>
<path d="M104 40.2L122.2 41.2L142.9 48.2Z" fill="url(#g156)" stroke="url(#g156)"/>
<path class="e" d="M104 40.2L122.2 41.2M122.2 41.2L142.9 48.2"/>
<path d="M104 40.2L142.9 48.2L124.7 50.9Z" fill="url(#g157)" stroke="url(#g157)"/>
<path d="M85.8 55.4L104 40.2L124.7 50.9Z" fill="url(#g158)" stroke="url(#g158)"/>
<path class="e" d="M85.8 55.4L104 40.2M104 40.2L124.7 50.9"/>
<path d="M85.8 55.4L124.7 50.9L106.4 53.7Z" fill="url(#g159)" stroke="url(#g159)"/>
<path d="M67.5 57.5L85.8 55.4L106.4 53.7Z" fill="url(#g160)" stroke="url(#g160)"/>
<path class="e" d="M67.5 57.5L85.8 55.4M85.8 55.4L106.4 53.7"/>
<path d="M67.5 57.5L106.4 53.7L88.1 54.9Z" fill="url(#g161)" stroke="url(#g161)"/>
<path class="e" d="M88.1 54.9L67.5 57.5"/>
<path d="M179.4 42.8L197.6 49.5L218.3 45.5Z" fill="url(#g162)" stroke="url(#g162)"/>
<path class="e" d="M179.4 42.8L197.6 49.5M197.6 49.5L218.3 45.5"/>
<path d="M179.4 42.8L218.3 45.5L200.1 48.3Z" fill="url(#g163)" stroke="url(#g163)"/>
<path class="e" d="M218.3 45.5L200.1 48.3"/>
<path d="M161.2 43.8L179.4 42.8L200.1 48.3Z" fill="url(#g164)" stroke="url(#g164)"/>
<path class="e" d="M161.2 43.8L179.4 42.8M179.4 42.8L200.1 48.3"/>
<path d="M161.2 43.8L200.1 48.3L181.8 53.3Z" fill="url(#g165)" stroke="url(#g165)"/>
<path class="e" d="M200.1 48.3L181.8 53.3"/>
<path d="M142.9 48.2L161.2 43.8L181.8 53.3Z" fill="url(#g166)" stroke="url(#g166)"/>
<path class="e" d="M142.9 48.2L161.2 43.8M161.2 43.8L181.8 53.3"/>
<path d="M142.9 48.2L181.8 53.3L163.6 56.6Z" fill="url(#g167)" stroke="url(#g167)"/>
<path class="e" d="M181.8 53.3L163.6 56.6"/>
<path d="M124.7 50.9L142.9 48.2L163.6 56.6Z" fill="url(#g168)" stroke="url(#g168)"/>
<path class="e" d="M124.7 50.9L142.9 48.2M142.9 48.2L163.6 56.6"/>
<path d="M124.7 50.9L163.6 56.6L145.3 55.3Z" fill="url(#g169)" stroke="url(#g169)"/>
<path class="e" d="M163.6 56.6L145.3 55.3"/>
<path d="M106.4 53.7L124.7 50.9L145.3 55.3Z" fill="url(#g170)" stroke="url(#g170)"/>
<path class="e" d="M106.4 53.7L124.7 50.9M124.7 50.9L145.3 55.3"/>
<path d="M106.4 53.7L145.3 55.3L127 59.1Z" fill="url(#g171)" stroke="url(#g171)"/>
<path class="e" d="M145.3 55.3L127 59.1"/>
<path d="M88.1 54.9L106.4 53.7L127 59.1Z" fill="url(#g172)" stroke="url(#g172)"/>
<path class="e" d="M88.1 54.9L106.4 53.7M106.4 53.7L127 59.1"/>
<path d="M88.1 54.9L127 59.1L108.8 65Z" fill="url(#g173)" stroke="url(#g173)"/>
<path class="e" d="M127 59.1L108.8 65M108.8 65L88.1 54.9"/></g>
<path class="a" d="M26.2 29.3L26.2 98.4L108.8 130.2L218.3 106.5M26.2 98.4l-1.6 -0.6M26.2 84.6l-1.6 -0.6M26.2 70.8l-1.6 -0.6M26.2 56.9l-1.6 -0.6M26.2 43.1l-1.6 -0.6M26.2 29.3l-1.6 -0.6M26.2 98.4l-1.5 0.35M46.8 106.4l-1.5 0.35M67.5 114.3l-1.5 0.35M88.1 122.2l-1.5 0.35M108.8 130.2l-1.5 0.35M108.8 130.2l1.4 0.55M127 126.2l1.4 0.55M145.3 122.3l1.4 0.55M163.6 118.4l1.4 0.55M181.8 114.4l1.4 0.55M200.1 110.5l1.4 0.55M218.3 106.5l1.4 0.55"/>
<text class="t" transform="translate(21.6 99.4) scale(1.1 1)" text-anchor="end">0</text>
<text class="t" transform="translate(21.6 85.6) scale(1.1 1)" text-anchor="end">20</text>
<text class="t" transform="translate(21.6 71.8) scale(1.1 1)" text-anchor="end">40</text>
<text class="t" transform="translate(21.6 57.9) scale(1.1 1)" text-anchor="end">60</text>
<text class="t" transform="translate(21.6 44.1) scale(1.1 1)" text-anchor="end">80</text>
<text class="t" transform="translate(21.6 30.3) scale(1.1 1)" text-anchor="end">100</text>
<text class="t" transform="translate(21.3 103.6) scale(1.1 1)" text-anchor="end">10</text>
<text class="t" transform="translate(41.9 111.6) scale(1.1 1)" text-anchor="end">8</text>
<text class="t" transform="translate(62.6 119.5) scale(1.1 1)" text-anchor="end">6</text>
<text class="t" transform="translate(83.2 127.5) scale(1.1 1)" text-anchor="end">4</text>
<text class="t" transform="translate(103.9 135.4) scale(1.1 1)" text-anchor="end">2</text>
<text class="t" transform="translate(117.8 135.8) scale(1.1 1)" text-anchor="middle">200</text>
<text class="t" transform="translate(136.1 131.8) scale(1.1 1)" text-anchor="middle">400</text>
<text class="t" transform="translate(154.3 127.9) scale(1.1 1)" text-anchor="middle">600</text>
<text class="t" transform="translate(172.6 124) scale(1.1 1)" text-anchor="middle">800</text>
<text class="t" transform="translate(190.8 120) scale(1.1 1)" text-anchor="middle">1000</text>
<text class="t" transform="translate(209.1 116) scale(1.1 1)" text-anchor="middle">1200</text>
<text class="t" transform="translate(227.3 112.1) scale(1.1 1)" text-anchor="middle">1400</text>
<text class="zl" transform="translate(9.3 64.8) scale(1.1 1) rotate(-90)" text-anchor="middle">PDR [%]</text>
<text class="xl" transform="translate(54.6 122.6) scale(1.1 1) rotate(21.8)" text-anchor="middle"><tspan x="0" y="2.6">Message generation</tspan><tspan x="-1" y="8">frequency [HZ]</tspan></text>
<text class="pl" transform="translate(178.2 128.9) scale(1.1 1) rotate(-12.6)" text-anchor="middle" y="2">Perimeter [m]</text>
<rect x="232.2" y="6.5" width="7.8" height="123.6" fill="url(#cb)"/>
<rect x="232.2" y="6.5" width="7.8" height="123.6" fill="none" stroke="#777" stroke-opacity=".45" stroke-width="0.3"/>
<text class="ct" transform="translate(242.4 131.8) scale(1.1 1)">50</text>
<text class="ct" transform="translate(242.4 119.4) scale(1.1 1)">55</text>
<text class="ct" transform="translate(242.4 107) scale(1.1 1)">60</text>
<text class="ct" transform="translate(242.4 94.6) scale(1.1 1)">65</text>
<text class="ct" transform="translate(242.4 82.2) scale(1.1 1)">70</text>
<text class="ct" transform="translate(242.4 69.8) scale(1.1 1)">75</text>
<text class="ct" transform="translate(242.4 57.4) scale(1.1 1)">80</text>
<text class="ct" transform="translate(242.4 45) scale(1.1 1)">85</text>
<text class="ct" transform="translate(242.4 32.6) scale(1.1 1)">90</text>
<text class="ct" transform="translate(242.4 20.2) scale(1.1 1)">95</text>
<text class="ct" transform="translate(242.4 7.8) scale(1.1 1)">100</text>
</g>
<text class="cap" filter="url(#bc)" x="427.2" y="330.4" text-anchor="middle"><tspan font-weight="bold">(d)</tspan> 5G-D2D - 8 BSs</text>
</svg>
</body></html>
